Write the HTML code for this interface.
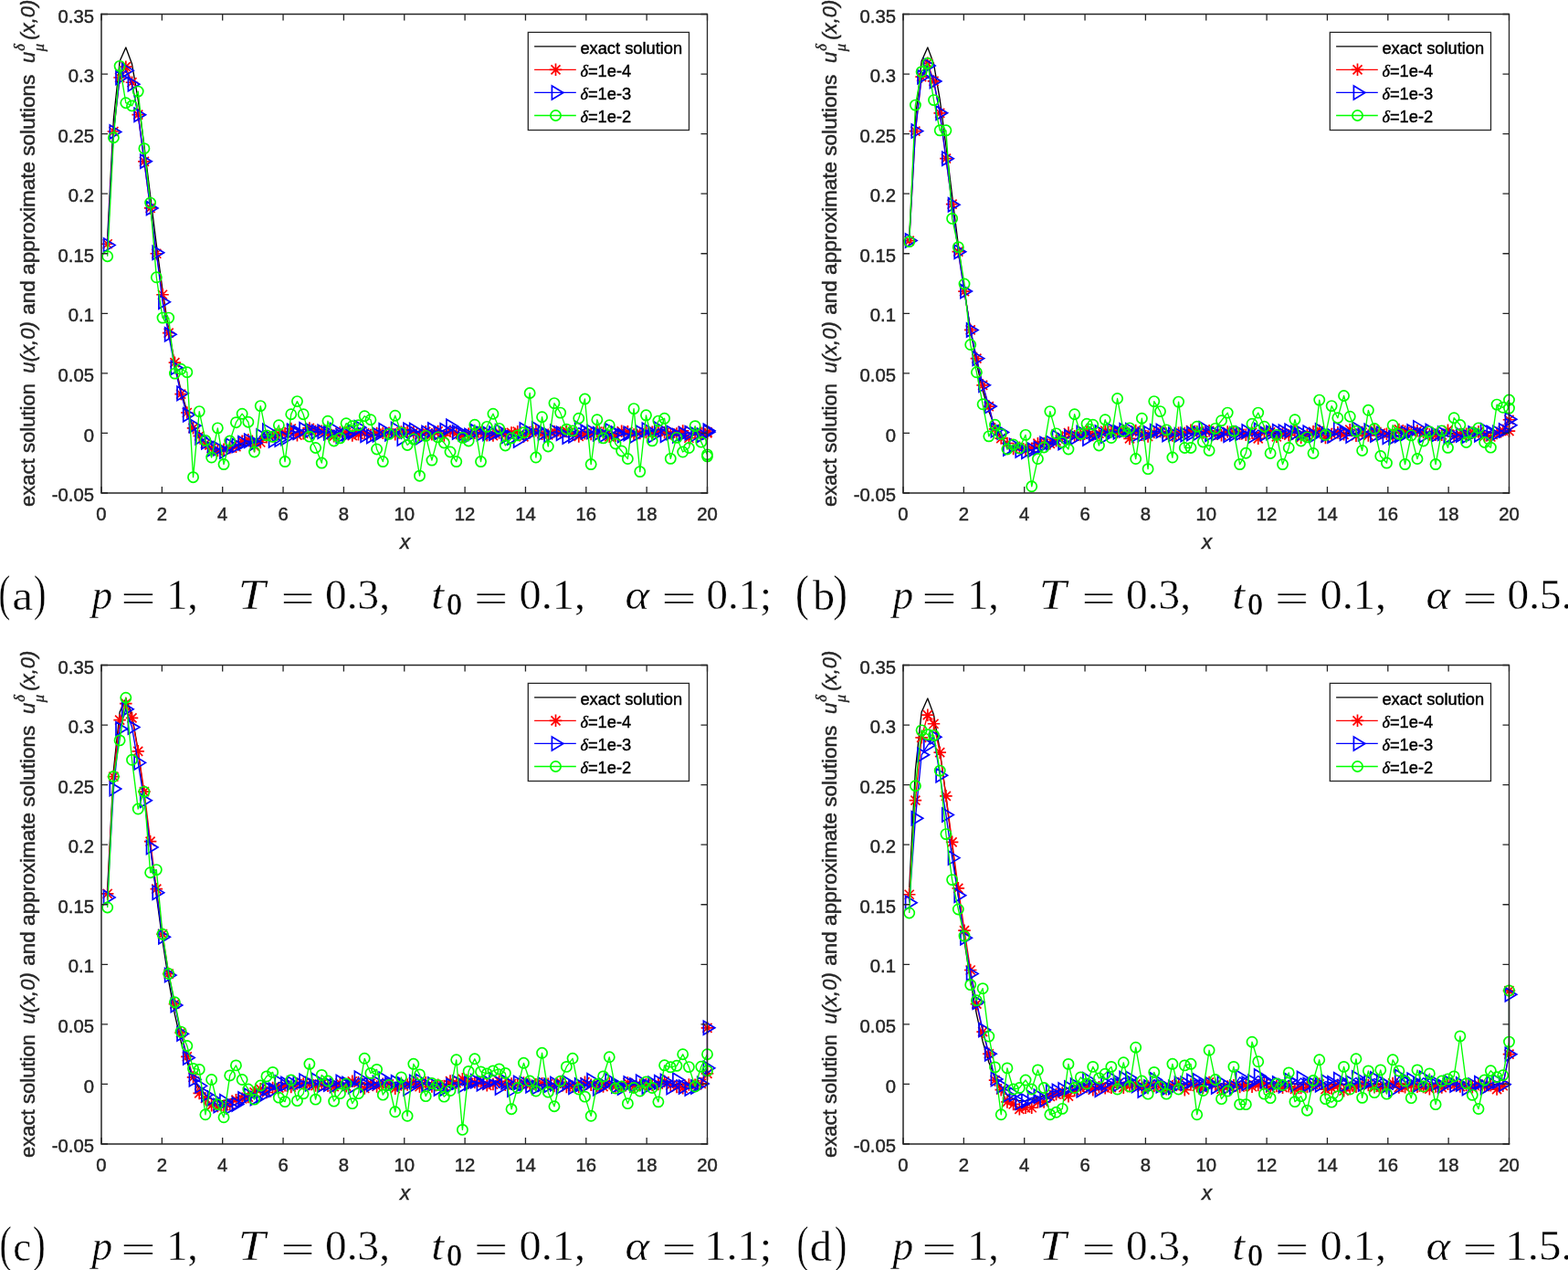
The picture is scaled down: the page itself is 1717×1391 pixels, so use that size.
<!DOCTYPE html>
<html><head><meta charset="utf-8"><style>
html,body{margin:0;padding:0;background:#fff;overflow:hidden}
svg{display:block}
</style></head><body>
<svg width="1717" height="1391" viewBox="0 0 1717 1391">
<rect width="1717" height="1391" fill="#fff"/>
<g transform="translate(0,0)">
<defs><clipPath id="cp0"><rect x="110.0" y="14.5" width="665.5" height="526.5"/></clipPath></defs>
<polyline clip-path="url(#cp0)" points="117.7,259.46 124.4,130.28 131.11,66.99 137.81,51.91 144.51,70.02 151.21,109.09 157.91,159.53 164.62,214.21 171.32,268.07 178.02,317.8 184.72,361.44 191.42,398.11 198.13,427.69 204.83,450.55 211.53,467.4 218.23,479.13 224.93,486.64 231.64,490.84 238.34,492.55 245.04,492.49 251.74,491.24 258.44,489.29 265.15,486.99 271.85,484.62 278.55,482.36 285.25,480.32 291.95,478.57 298.66,477.12 305.36,475.98 312.06,475.11 318.76,474.49 325.46,474.07 332.17,473.81 338.87,473.68 345.57,473.65 352.27,473.68 358.97,473.75 365.68,473.84 372.38,473.94 379.08,474.04 385.78,474.14 392.48,474.22 399.19,474.29 405.89,474.35 412.59,474.39 419.29,474.42 425.99,474.44 432.7,474.46 439.4,474.47 446.1,474.47 452.8,474.47 459.51,474.47 466.21,474.47 472.91,474.46 479.61,474.46 486.31,474.45 493.02,474.45 499.72,474.45 506.42,474.44 513.12,474.44 519.82,474.44 526.53,474.44 533.23,474.44 539.93,474.44 546.63,474.44 553.33,474.44 560.04,474.44 566.74,474.44 573.44,474.44 580.14,474.44 586.84,474.44 593.55,474.44 600.25,474.44 606.95,474.44 613.65,474.44 620.35,474.44 627.06,474.44 633.76,474.44 640.46,474.44 647.16,474.44 653.86,474.44 660.57,474.44 667.27,474.44 673.97,474.44 680.67,474.44 687.37,474.44 694.08,474.44 700.78,474.44 707.48,474.44 714.18,474.44 720.88,474.44 727.59,474.44 734.29,474.44 740.99,474.44 747.69,474.44 754.39,474.44 761.1,474.44 767.8,474.44 774.5,474.44" fill="none" stroke="#000" stroke-width="1.35" stroke-linejoin="round"/>
<polyline clip-path="url(#cp0)" points="117.7,267.26 124.4,144 131.11,85 137.81,73.2 144.51,90.24 151.21,125.65 157.91,176.78 164.62,227.92 171.32,277.75 178.02,322.73 184.72,364.69 191.42,397.2 198.13,431.53 204.83,452.01 211.53,468.86 218.23,477.5 224.93,486 231.64,490.79 238.34,493.58 245.04,492.28 251.74,490.47 258.44,489.27 265.15,483.37 271.85,481.79 278.55,488.4 285.25,484.52 291.95,478.8 298.66,478 305.36,475.41 312.06,474.57 318.76,469.49 325.46,476.71 332.17,474.73 338.87,468.9 345.57,472.16 352.27,472.15 358.97,474.99 365.68,477.76 372.38,473.57 379.08,473.8 385.78,477.05 392.48,475.84 399.19,474.47 405.89,476.58 412.59,474.62 419.29,474.2 425.99,474.36 432.7,475.65 439.4,473.06 446.1,472.37 452.8,473.71 459.51,476.4 466.21,472.74 472.91,475.64 479.61,472.38 486.31,476.98 493.02,472.29 499.72,474.49 506.42,477.39 513.12,475.18 519.82,474.31 526.53,473.79 533.23,476.76 539.93,477.05 546.63,473.97 553.33,475.54 560.04,473.88 566.74,472.64 573.44,478.33 580.14,473.84 586.84,471.55 593.55,475.14 600.25,476.35 606.95,472.66 613.65,473.84 620.35,472.32 627.06,475.25 633.76,477.93 640.46,474.7 647.16,475.49 653.86,472.61 660.57,473.98 667.27,478.29 673.97,477.26 680.67,472.35 687.37,472.83 694.08,475.95 700.78,474.44 707.48,473.39 714.18,473.33 720.88,472.37 727.59,473.83 734.29,474.66 740.99,475.05 747.69,471.95 754.39,479.75 761.1,474.76 767.8,474.36 774.5,473.13 774.5,474.44" fill="none" stroke="#f00" stroke-width="1.35" stroke-linejoin="round"/>
<path fill="none" stroke="#f00" stroke-width="1.7" d="M110.95 267.26H124.45M117.7 260.51V274.01M112.7 262.26L122.7 272.26M112.7 272.26L122.7 262.26M117.65 144H131.15M124.4 137.25V150.75M119.4 139L129.4 149M119.4 149L129.4 139M124.36 85H137.86M131.11 78.25V91.75M126.11 80L136.11 90M126.11 90L136.11 80M131.06 73.2H144.56M137.81 66.45V79.95M132.81 68.2L142.81 78.2M132.81 78.2L142.81 68.2M137.76 90.24H151.26M144.51 83.49V96.99M139.51 85.24L149.51 95.24M139.51 95.24L149.51 85.24M144.46 125.65H157.96M151.21 118.9V132.4M146.21 120.65L156.21 130.65M146.21 130.65L156.21 120.65M151.16 176.78H164.66M157.91 170.03V183.53M152.91 171.78L162.91 181.78M152.91 181.78L162.91 171.78M157.87 227.92H171.37M164.62 221.17V234.67M159.62 222.92L169.62 232.92M159.62 232.92L169.62 222.92M164.57 277.75H178.07M171.32 271V284.5M166.32 272.75L176.32 282.75M166.32 282.75L176.32 272.75M171.27 322.73H184.77M178.02 315.98V329.48M173.02 317.73L183.02 327.73M173.02 327.73L183.02 317.73M177.97 364.69H191.47M184.72 357.94V371.44M179.72 359.69L189.72 369.69M179.72 369.69L189.72 359.69M184.67 397.2H198.17M191.42 390.45V403.95M186.42 392.2L196.42 402.2M186.42 402.2L196.42 392.2M191.38 431.53H204.88M198.13 424.78V438.28M193.13 426.53L203.13 436.53M193.13 436.53L203.13 426.53M198.08 452.01H211.58M204.83 445.26V458.76M199.83 447.01L209.83 457.01M199.83 457.01L209.83 447.01M204.78 468.86H218.28M211.53 462.11V475.61M206.53 463.86L216.53 473.86M206.53 473.86L216.53 463.86M211.48 477.5H224.98M218.23 470.75V484.25M213.23 472.5L223.23 482.5M213.23 482.5L223.23 472.5M218.18 486H231.68M224.93 479.25V492.75M219.93 481L229.93 491M219.93 491L229.93 481M224.89 490.79H238.39M231.64 484.04V497.54M226.64 485.79L236.64 495.79M226.64 495.79L236.64 485.79M231.59 493.58H245.09M238.34 486.83V500.33M233.34 488.58L243.34 498.58M233.34 498.58L243.34 488.58M238.29 492.28H251.79M245.04 485.53V499.03M240.04 487.28L250.04 497.28M240.04 497.28L250.04 487.28M244.99 490.47H258.49M251.74 483.72V497.22M246.74 485.47L256.74 495.47M246.74 495.47L256.74 485.47M251.69 489.27H265.19M258.44 482.52V496.02M253.44 484.27L263.44 494.27M253.44 494.27L263.44 484.27M258.4 483.37H271.9M265.15 476.62V490.12M260.15 478.37L270.15 488.37M260.15 488.37L270.15 478.37M265.1 481.79H278.6M271.85 475.04V488.54M266.85 476.79L276.85 486.79M266.85 486.79L276.85 476.79M271.8 488.4H285.3M278.55 481.65V495.15M273.55 483.4L283.55 493.4M273.55 493.4L283.55 483.4M278.5 484.52H292M285.25 477.77V491.27M280.25 479.52L290.25 489.52M280.25 489.52L290.25 479.52M285.2 478.8H298.7M291.95 472.05V485.55M286.95 473.8L296.95 483.8M286.95 483.8L296.95 473.8M291.91 478H305.41M298.66 471.25V484.75M293.66 473L303.66 483M293.66 483L303.66 473M298.61 475.41H312.11M305.36 468.66V482.16M300.36 470.41L310.36 480.41M300.36 480.41L310.36 470.41M305.31 474.57H318.81M312.06 467.82V481.32M307.06 469.57L317.06 479.57M307.06 479.57L317.06 469.57M312.01 469.49H325.51M318.76 462.74V476.24M313.76 464.49L323.76 474.49M313.76 474.49L323.76 464.49M318.71 476.71H332.21M325.46 469.96V483.46M320.46 471.71L330.46 481.71M320.46 481.71L330.46 471.71M325.42 474.73H338.92M332.17 467.98V481.48M327.17 469.73L337.17 479.73M327.17 479.73L337.17 469.73M332.12 468.9H345.62M338.87 462.15V475.65M333.87 463.9L343.87 473.9M333.87 473.9L343.87 463.9M338.82 472.16H352.32M345.57 465.41V478.91M340.57 467.16L350.57 477.16M340.57 477.16L350.57 467.16M345.52 472.15H359.02M352.27 465.4V478.9M347.27 467.15L357.27 477.15M347.27 477.15L357.27 467.15M352.22 474.99H365.72M358.97 468.24V481.74M353.97 469.99L363.97 479.99M353.97 479.99L363.97 469.99M358.93 477.76H372.43M365.68 471.01V484.51M360.68 472.76L370.68 482.76M360.68 482.76L370.68 472.76M365.63 473.57H379.13M372.38 466.82V480.32M367.38 468.57L377.38 478.57M367.38 478.57L377.38 468.57M372.33 473.8H385.83M379.08 467.05V480.55M374.08 468.8L384.08 478.8M374.08 478.8L384.08 468.8M379.03 477.05H392.53M385.78 470.3V483.8M380.78 472.05L390.78 482.05M380.78 482.05L390.78 472.05M385.73 475.84H399.23M392.48 469.09V482.59M387.48 470.84L397.48 480.84M387.48 480.84L397.48 470.84M392.44 474.47H405.94M399.19 467.72V481.22M394.19 469.47L404.19 479.47M394.19 479.47L404.19 469.47M399.14 476.58H412.64M405.89 469.83V483.33M400.89 471.58L410.89 481.58M400.89 481.58L410.89 471.58M405.84 474.62H419.34M412.59 467.87V481.37M407.59 469.62L417.59 479.62M407.59 479.62L417.59 469.62M412.54 474.2H426.04M419.29 467.45V480.95M414.29 469.2L424.29 479.2M414.29 479.2L424.29 469.2M419.24 474.36H432.74M425.99 467.61V481.11M420.99 469.36L430.99 479.36M420.99 479.36L430.99 469.36M425.95 475.65H439.45M432.7 468.9V482.4M427.7 470.65L437.7 480.65M427.7 480.65L437.7 470.65M432.65 473.06H446.15M439.4 466.31V479.81M434.4 468.06L444.4 478.06M434.4 478.06L444.4 468.06M439.35 472.37H452.85M446.1 465.62V479.12M441.1 467.37L451.1 477.37M441.1 477.37L451.1 467.37M446.05 473.71H459.55M452.8 466.96V480.46M447.8 468.71L457.8 478.71M447.8 478.71L457.8 468.71M452.76 476.4H466.26M459.51 469.65V483.15M454.51 471.4L464.51 481.4M454.51 481.4L464.51 471.4M459.46 472.74H472.96M466.21 465.99V479.49M461.21 467.74L471.21 477.74M461.21 477.74L471.21 467.74M466.16 475.64H479.66M472.91 468.89V482.39M467.91 470.64L477.91 480.64M467.91 480.64L477.91 470.64M472.86 472.38H486.36M479.61 465.63V479.13M474.61 467.38L484.61 477.38M474.61 477.38L484.61 467.38M479.56 476.98H493.06M486.31 470.23V483.73M481.31 471.98L491.31 481.98M481.31 481.98L491.31 471.98M486.27 472.29H499.77M493.02 465.54V479.04M488.02 467.29L498.02 477.29M488.02 477.29L498.02 467.29M492.97 474.49H506.47M499.72 467.74V481.24M494.72 469.49L504.72 479.49M494.72 479.49L504.72 469.49M499.67 477.39H513.17M506.42 470.64V484.14M501.42 472.39L511.42 482.39M501.42 482.39L511.42 472.39M506.37 475.18H519.87M513.12 468.43V481.93M508.12 470.18L518.12 480.18M508.12 480.18L518.12 470.18M513.07 474.31H526.57M519.82 467.56V481.06M514.82 469.31L524.82 479.31M514.82 479.31L524.82 469.31M519.78 473.79H533.28M526.53 467.04V480.54M521.53 468.79L531.53 478.79M521.53 478.79L531.53 468.79M526.48 476.76H539.98M533.23 470.01V483.51M528.23 471.76L538.23 481.76M528.23 481.76L538.23 471.76M533.18 477.05H546.68M539.93 470.3V483.8M534.93 472.05L544.93 482.05M534.93 482.05L544.93 472.05M539.88 473.97H553.38M546.63 467.22V480.72M541.63 468.97L551.63 478.97M541.63 478.97L551.63 468.97M546.58 475.54H560.08M553.33 468.79V482.29M548.33 470.54L558.33 480.54M548.33 480.54L558.33 470.54M553.29 473.88H566.79M560.04 467.13V480.63M555.04 468.88L565.04 478.88M555.04 478.88L565.04 468.88M559.99 472.64H573.49M566.74 465.89V479.39M561.74 467.64L571.74 477.64M561.74 477.64L571.74 467.64M566.69 478.33H580.19M573.44 471.58V485.08M568.44 473.33L578.44 483.33M568.44 483.33L578.44 473.33M573.39 473.84H586.89M580.14 467.09V480.59M575.14 468.84L585.14 478.84M575.14 478.84L585.14 468.84M580.09 471.55H593.59M586.84 464.8V478.3M581.84 466.55L591.84 476.55M581.84 476.55L591.84 466.55M586.8 475.14H600.3M593.55 468.39V481.89M588.55 470.14L598.55 480.14M588.55 480.14L598.55 470.14M593.5 476.35H607M600.25 469.6V483.1M595.25 471.35L605.25 481.35M595.25 481.35L605.25 471.35M600.2 472.66H613.7M606.95 465.91V479.41M601.95 467.66L611.95 477.66M601.95 477.66L611.95 467.66M606.9 473.84H620.4M613.65 467.09V480.59M608.65 468.84L618.65 478.84M608.65 478.84L618.65 468.84M613.6 472.32H627.1M620.35 465.57V479.07M615.35 467.32L625.35 477.32M615.35 477.32L625.35 467.32M620.31 475.25H633.81M627.06 468.5V482M622.06 470.25L632.06 480.25M622.06 480.25L632.06 470.25M627.01 477.93H640.51M633.76 471.18V484.68M628.76 472.93L638.76 482.93M628.76 482.93L638.76 472.93M633.71 474.7H647.21M640.46 467.95V481.45M635.46 469.7L645.46 479.7M635.46 479.7L645.46 469.7M640.41 475.49H653.91M647.16 468.74V482.24M642.16 470.49L652.16 480.49M642.16 480.49L652.16 470.49M647.11 472.61H660.61M653.86 465.86V479.36M648.86 467.61L658.86 477.61M648.86 477.61L658.86 467.61M653.82 473.98H667.32M660.57 467.23V480.73M655.57 468.98L665.57 478.98M655.57 478.98L665.57 468.98M660.52 478.29H674.02M667.27 471.54V485.04M662.27 473.29L672.27 483.29M662.27 483.29L672.27 473.29M667.22 477.26H680.72M673.97 470.51V484.01M668.97 472.26L678.97 482.26M668.97 482.26L678.97 472.26M673.92 472.35H687.42M680.67 465.6V479.1M675.67 467.35L685.67 477.35M675.67 477.35L685.67 467.35M680.62 472.83H694.12M687.37 466.08V479.58M682.37 467.83L692.37 477.83M682.37 477.83L692.37 467.83M687.33 475.95H700.83M694.08 469.2V482.7M689.08 470.95L699.08 480.95M689.08 480.95L699.08 470.95M694.03 474.44H707.53M700.78 467.69V481.19M695.78 469.44L705.78 479.44M695.78 479.44L705.78 469.44M700.73 473.39H714.23M707.48 466.64V480.14M702.48 468.39L712.48 478.39M702.48 478.39L712.48 468.39M707.43 473.33H720.93M714.18 466.58V480.08M709.18 468.33L719.18 478.33M709.18 478.33L719.18 468.33M714.13 472.37H727.63M720.88 465.62V479.12M715.88 467.37L725.88 477.37M715.88 477.37L725.88 467.37M720.84 473.83H734.34M727.59 467.08V480.58M722.59 468.83L732.59 478.83M722.59 478.83L732.59 468.83M727.54 474.66H741.04M734.29 467.91V481.41M729.29 469.66L739.29 479.66M729.29 479.66L739.29 469.66M734.24 475.05H747.74M740.99 468.3V481.8M735.99 470.05L745.99 480.05M735.99 480.05L745.99 470.05M740.94 471.95H754.44M747.69 465.2V478.7M742.69 466.95L752.69 476.95M742.69 476.95L752.69 466.95M747.64 479.75H761.14M754.39 473V486.5M749.39 474.75L759.39 484.75M749.39 484.75L759.39 474.75M754.35 474.76H767.85M761.1 468.01V481.51M756.1 469.76L766.1 479.76M756.1 479.76L766.1 469.76M761.05 474.36H774.55M767.8 467.61V481.11M762.8 469.36L772.8 479.36M762.8 479.36L772.8 469.36M767.75 473.13H781.25M774.5 466.38V479.88M769.5 468.13L779.5 478.13M769.5 478.13L779.5 468.13M767.75 474.44H781.25M774.5 467.69V481.19M769.5 469.44L779.5 479.44M769.5 479.44L779.5 469.44"/>
<polyline clip-path="url(#cp0)" points="117.7,268.57 124.4,144.4 131.11,85 137.81,77.13 144.51,92.21 151.21,125.65 157.91,176.78 164.62,227.92 171.32,276.83 178.02,330.72 184.72,366.26 191.42,402.71 198.13,430.87 204.83,454.22 211.53,466.23 218.23,479.24 224.93,484.3 231.64,492.09 238.34,491.32 245.04,494.6 251.74,487.73 258.44,488 265.15,485.34 271.85,482.82 278.55,485.32 285.25,477.49 291.95,471.64 298.66,482.37 305.36,481.58 312.06,480.02 318.76,471.73 325.46,473.66 332.17,470.31 338.87,471.35 345.57,472.99 352.27,472.78 358.97,474.33 365.68,471.02 372.38,477.67 379.08,475.44 385.78,473.35 392.48,468.32 399.19,476.8 405.89,477.89 412.59,476.24 419.29,471.24 425.99,475.21 432.7,470.12 439.4,480.6 446.1,470.77 452.8,471.08 459.51,479.12 466.21,473.96 472.91,470.47 479.61,474.17 486.31,471.17 493.02,466.66 499.72,473.55 506.42,475.36 513.12,476.97 519.82,472.31 526.53,475.08 533.23,475.02 539.93,474.78 546.63,472.31 553.33,477.93 560.04,479.45 566.74,482.41 573.44,470.51 580.14,474.19 586.84,469.49 593.55,474.47 600.25,476.87 606.95,472.87 613.65,474.69 620.35,478.55 627.06,477.34 633.76,468.65 640.46,473.28 647.16,473.07 653.86,475.34 660.57,476.7 667.27,471.51 673.97,474.78 680.67,476.93 687.37,474.88 694.08,477.41 700.78,473.81 707.48,470.74 714.18,477.18 720.88,469.75 727.59,476.63 734.29,473.93 740.99,477.18 747.69,475.17 754.39,474.28 761.1,475.86 767.8,476.74 774.5,471.81 774.5,473.13" fill="none" stroke="#00f" stroke-width="1.35" stroke-linejoin="round"/>
<path fill="none" stroke="#00f" stroke-width="1.7" stroke-linejoin="miter" d="M126 268.57L113.6 261.07L113.6 276.07ZM132.7 144.4L120.3 136.9L120.3 151.9ZM139.41 85L127.01 77.5L127.01 92.5ZM146.11 77.13L133.71 69.63L133.71 84.63ZM152.81 92.21L140.41 84.71L140.41 99.71ZM159.51 125.65L147.11 118.15L147.11 133.15ZM166.21 176.78L153.81 169.28L153.81 184.28ZM172.92 227.92L160.52 220.42L160.52 235.42ZM179.62 276.83L167.22 269.33L167.22 284.33ZM186.32 330.72L173.92 323.22L173.92 338.22ZM193.02 366.26L180.62 358.76L180.62 373.76ZM199.72 402.71L187.32 395.21L187.32 410.21ZM206.43 430.87L194.03 423.37L194.03 438.37ZM213.13 454.22L200.73 446.72L200.73 461.72ZM219.83 466.23L207.43 458.73L207.43 473.73ZM226.53 479.24L214.13 471.74L214.13 486.74ZM233.23 484.3L220.83 476.8L220.83 491.8ZM239.94 492.09L227.54 484.59L227.54 499.59ZM246.64 491.32L234.24 483.82L234.24 498.82ZM253.34 494.6L240.94 487.1L240.94 502.1ZM260.04 487.73L247.64 480.23L247.64 495.23ZM266.74 488L254.34 480.5L254.34 495.5ZM273.45 485.34L261.05 477.84L261.05 492.84ZM280.15 482.82L267.75 475.32L267.75 490.32ZM286.85 485.32L274.45 477.82L274.45 492.82ZM293.55 477.49L281.15 469.99L281.15 484.99ZM300.25 471.64L287.85 464.14L287.85 479.14ZM306.96 482.37L294.56 474.87L294.56 489.87ZM313.66 481.58L301.26 474.08L301.26 489.08ZM320.36 480.02L307.96 472.52L307.96 487.52ZM327.06 471.73L314.66 464.23L314.66 479.23ZM333.76 473.66L321.36 466.16L321.36 481.16ZM340.47 470.31L328.07 462.81L328.07 477.81ZM347.17 471.35L334.77 463.85L334.77 478.85ZM353.87 472.99L341.47 465.49L341.47 480.49ZM360.57 472.78L348.17 465.28L348.17 480.28ZM367.27 474.33L354.87 466.83L354.87 481.83ZM373.98 471.02L361.58 463.52L361.58 478.52ZM380.68 477.67L368.28 470.17L368.28 485.17ZM387.38 475.44L374.98 467.94L374.98 482.94ZM394.08 473.35L381.68 465.85L381.68 480.85ZM400.78 468.32L388.38 460.82L388.38 475.82ZM407.49 476.8L395.09 469.3L395.09 484.3ZM414.19 477.89L401.79 470.39L401.79 485.39ZM420.89 476.24L408.49 468.74L408.49 483.74ZM427.59 471.24L415.19 463.74L415.19 478.74ZM434.29 475.21L421.89 467.71L421.89 482.71ZM441 470.12L428.6 462.62L428.6 477.62ZM447.7 480.6L435.3 473.1L435.3 488.1ZM454.4 470.77L442 463.27L442 478.27ZM461.1 471.08L448.7 463.58L448.7 478.58ZM467.81 479.12L455.41 471.62L455.41 486.62ZM474.51 473.96L462.11 466.46L462.11 481.46ZM481.21 470.47L468.81 462.97L468.81 477.97ZM487.91 474.17L475.51 466.67L475.51 481.67ZM494.61 471.17L482.21 463.67L482.21 478.67ZM501.32 466.66L488.92 459.16L488.92 474.16ZM508.02 473.55L495.62 466.05L495.62 481.05ZM514.72 475.36L502.32 467.86L502.32 482.86ZM521.42 476.97L509.02 469.47L509.02 484.47ZM528.12 472.31L515.72 464.81L515.72 479.81ZM534.83 475.08L522.43 467.58L522.43 482.58ZM541.53 475.02L529.13 467.52L529.13 482.52ZM548.23 474.78L535.83 467.28L535.83 482.28ZM554.93 472.31L542.53 464.81L542.53 479.81ZM561.63 477.93L549.23 470.43L549.23 485.43ZM568.34 479.45L555.94 471.95L555.94 486.95ZM575.04 482.41L562.64 474.91L562.64 489.91ZM581.74 470.51L569.34 463.01L569.34 478.01ZM588.44 474.19L576.04 466.69L576.04 481.69ZM595.14 469.49L582.74 461.99L582.74 476.99ZM601.85 474.47L589.45 466.97L589.45 481.97ZM608.55 476.87L596.15 469.37L596.15 484.37ZM615.25 472.87L602.85 465.37L602.85 480.37ZM621.95 474.69L609.55 467.19L609.55 482.19ZM628.65 478.55L616.25 471.05L616.25 486.05ZM635.36 477.34L622.96 469.84L622.96 484.84ZM642.06 468.65L629.66 461.15L629.66 476.15ZM648.76 473.28L636.36 465.78L636.36 480.78ZM655.46 473.07L643.06 465.57L643.06 480.57ZM662.16 475.34L649.76 467.84L649.76 482.84ZM668.87 476.7L656.47 469.2L656.47 484.2ZM675.57 471.51L663.17 464.01L663.17 479.01ZM682.27 474.78L669.87 467.28L669.87 482.28ZM688.97 476.93L676.57 469.43L676.57 484.43ZM695.67 474.88L683.27 467.38L683.27 482.38ZM702.38 477.41L689.98 469.91L689.98 484.91ZM709.08 473.81L696.68 466.31L696.68 481.31ZM715.78 470.74L703.38 463.24L703.38 478.24ZM722.48 477.18L710.08 469.68L710.08 484.68ZM729.18 469.75L716.78 462.25L716.78 477.25ZM735.89 476.63L723.49 469.13L723.49 484.13ZM742.59 473.93L730.19 466.43L730.19 481.43ZM749.29 477.18L736.89 469.68L736.89 484.68ZM755.99 475.17L743.59 467.67L743.59 482.67ZM762.69 474.28L750.29 466.78L750.29 481.78ZM769.4 475.86L757 468.36L757 483.36ZM776.1 476.74L763.7 469.24L763.7 484.24ZM782.8 471.81L770.4 464.31L770.4 479.31ZM782.8 473.13L770.4 465.63L770.4 480.63Z"/>
<polyline clip-path="url(#cp0)" points="117.7,280.75 124.4,150.73 131.11,72.35 137.81,112.69 144.51,115.9 151.21,100.08 157.91,162.64 164.62,222.1 171.32,303.77 178.02,348.12 184.72,348.12 191.42,409.08 198.13,404.27 204.83,407.67 211.53,522.68 218.23,450.61 224.93,482.35 231.64,501.06 238.34,468.83 245.04,508.57 251.74,482.95 258.44,462.73 265.15,453.22 271.85,462.23 278.55,494.96 285.25,444.61 291.95,476.84 298.66,478.34 305.36,465.73 312.06,505.57 318.76,453.72 325.46,439.6 332.17,453.72 338.87,478.14 345.57,490.45 352.27,507.07 358.97,461.22 365.68,482.95 372.38,479.84 379.08,463.73 385.78,466.73 392.48,465.73 399.19,455.72 405.89,459.72 412.59,491.95 419.29,505.57 425.99,475.34 432.7,455.22 439.4,473.84 446.1,487.45 452.8,480.84 459.51,521.18 466.21,477.34 472.91,504.07 479.61,478.84 486.31,484.95 493.02,494.96 499.72,505.57 506.42,479.34 513.12,482.95 519.82,465.23 526.53,505.57 533.23,467.33 539.93,453.22 546.63,469.33 553.33,487.95 560.04,479.84 566.74,476.84 573.44,473.84 580.14,430.5 586.84,501.06 593.55,456.72 600.25,488.95 606.95,441.61 613.65,452.12 620.35,470.13 627.06,471.84 633.76,458.22 640.46,437 647.16,508.57 653.86,459.72 660.57,479.84 667.27,465.73 673.97,485.95 680.67,493.96 687.37,502.56 694.08,447.61 700.78,516.58 707.48,454.82 714.18,482.85 720.88,461.12 727.59,458.32 734.29,502.36 740.99,479.34 747.69,495.06 754.39,490.55 761.1,466.63 767.8,484.15 774.5,497.86 774.5,499.86" fill="none" stroke="#0f0" stroke-width="1.35" stroke-linejoin="round"/>
<g fill="none" stroke="#0f0" stroke-width="1.7"><circle cx="117.7" cy="280.75" r="5.6"/><circle cx="124.4" cy="150.73" r="5.6"/><circle cx="131.11" cy="72.35" r="5.6"/><circle cx="137.81" cy="112.69" r="5.6"/><circle cx="144.51" cy="115.9" r="5.6"/><circle cx="151.21" cy="100.08" r="5.6"/><circle cx="157.91" cy="162.64" r="5.6"/><circle cx="164.62" cy="222.1" r="5.6"/><circle cx="171.32" cy="303.77" r="5.6"/><circle cx="178.02" cy="348.12" r="5.6"/><circle cx="184.72" cy="348.12" r="5.6"/><circle cx="191.42" cy="409.08" r="5.6"/><circle cx="198.13" cy="404.27" r="5.6"/><circle cx="204.83" cy="407.67" r="5.6"/><circle cx="211.53" cy="522.68" r="5.6"/><circle cx="218.23" cy="450.61" r="5.6"/><circle cx="224.93" cy="482.35" r="5.6"/><circle cx="231.64" cy="501.06" r="5.6"/><circle cx="238.34" cy="468.83" r="5.6"/><circle cx="245.04" cy="508.57" r="5.6"/><circle cx="251.74" cy="482.95" r="5.6"/><circle cx="258.44" cy="462.73" r="5.6"/><circle cx="265.15" cy="453.22" r="5.6"/><circle cx="271.85" cy="462.23" r="5.6"/><circle cx="278.55" cy="494.96" r="5.6"/><circle cx="285.25" cy="444.61" r="5.6"/><circle cx="291.95" cy="476.84" r="5.6"/><circle cx="298.66" cy="478.34" r="5.6"/><circle cx="305.36" cy="465.73" r="5.6"/><circle cx="312.06" cy="505.57" r="5.6"/><circle cx="318.76" cy="453.72" r="5.6"/><circle cx="325.46" cy="439.6" r="5.6"/><circle cx="332.17" cy="453.72" r="5.6"/><circle cx="338.87" cy="478.14" r="5.6"/><circle cx="345.57" cy="490.45" r="5.6"/><circle cx="352.27" cy="507.07" r="5.6"/><circle cx="358.97" cy="461.22" r="5.6"/><circle cx="365.68" cy="482.95" r="5.6"/><circle cx="372.38" cy="479.84" r="5.6"/><circle cx="379.08" cy="463.73" r="5.6"/><circle cx="385.78" cy="466.73" r="5.6"/><circle cx="392.48" cy="465.73" r="5.6"/><circle cx="399.19" cy="455.72" r="5.6"/><circle cx="405.89" cy="459.72" r="5.6"/><circle cx="412.59" cy="491.95" r="5.6"/><circle cx="419.29" cy="505.57" r="5.6"/><circle cx="425.99" cy="475.34" r="5.6"/><circle cx="432.7" cy="455.22" r="5.6"/><circle cx="439.4" cy="473.84" r="5.6"/><circle cx="446.1" cy="487.45" r="5.6"/><circle cx="452.8" cy="480.84" r="5.6"/><circle cx="459.51" cy="521.18" r="5.6"/><circle cx="466.21" cy="477.34" r="5.6"/><circle cx="472.91" cy="504.07" r="5.6"/><circle cx="479.61" cy="478.84" r="5.6"/><circle cx="486.31" cy="484.95" r="5.6"/><circle cx="493.02" cy="494.96" r="5.6"/><circle cx="499.72" cy="505.57" r="5.6"/><circle cx="506.42" cy="479.34" r="5.6"/><circle cx="513.12" cy="482.95" r="5.6"/><circle cx="519.82" cy="465.23" r="5.6"/><circle cx="526.53" cy="505.57" r="5.6"/><circle cx="533.23" cy="467.33" r="5.6"/><circle cx="539.93" cy="453.22" r="5.6"/><circle cx="546.63" cy="469.33" r="5.6"/><circle cx="553.33" cy="487.95" r="5.6"/><circle cx="560.04" cy="479.84" r="5.6"/><circle cx="566.74" cy="476.84" r="5.6"/><circle cx="573.44" cy="473.84" r="5.6"/><circle cx="580.14" cy="430.5" r="5.6"/><circle cx="586.84" cy="501.06" r="5.6"/><circle cx="593.55" cy="456.72" r="5.6"/><circle cx="600.25" cy="488.95" r="5.6"/><circle cx="606.95" cy="441.61" r="5.6"/><circle cx="613.65" cy="452.12" r="5.6"/><circle cx="620.35" cy="470.13" r="5.6"/><circle cx="627.06" cy="471.84" r="5.6"/><circle cx="633.76" cy="458.22" r="5.6"/><circle cx="640.46" cy="437" r="5.6"/><circle cx="647.16" cy="508.57" r="5.6"/><circle cx="653.86" cy="459.72" r="5.6"/><circle cx="660.57" cy="479.84" r="5.6"/><circle cx="667.27" cy="465.73" r="5.6"/><circle cx="673.97" cy="485.95" r="5.6"/><circle cx="680.67" cy="493.96" r="5.6"/><circle cx="687.37" cy="502.56" r="5.6"/><circle cx="694.08" cy="447.61" r="5.6"/><circle cx="700.78" cy="516.58" r="5.6"/><circle cx="707.48" cy="454.82" r="5.6"/><circle cx="714.18" cy="482.85" r="5.6"/><circle cx="720.88" cy="461.12" r="5.6"/><circle cx="727.59" cy="458.32" r="5.6"/><circle cx="734.29" cy="502.36" r="5.6"/><circle cx="740.99" cy="479.34" r="5.6"/><circle cx="747.69" cy="495.06" r="5.6"/><circle cx="754.39" cy="490.55" r="5.6"/><circle cx="761.1" cy="466.63" r="5.6"/><circle cx="767.8" cy="484.15" r="5.6"/><circle cx="774.5" cy="497.86" r="5.6"/><circle cx="774.5" cy="499.86" r="5.6"/></g>
<path d="M111.0 15.5V540.0H774.5" fill="none" stroke="#262626" stroke-width="1.5" stroke-linejoin="miter" stroke-linecap="square"/>
<path d="M111.0 15.5H774.5V540.0" fill="none" stroke="#262626" stroke-width="1.3" stroke-linejoin="miter" stroke-linecap="square"/>
<path d="M111 540.0V533M111 15.5V22.5M177.35 540.0V533M177.35 15.5V22.5M243.7 540.0V533M243.7 15.5V22.5M310.05 540.0V533M310.05 15.5V22.5M376.4 540.0V533M376.4 15.5V22.5M442.75 540.0V533M442.75 15.5V22.5M509.1 540.0V533M509.1 15.5V22.5M575.45 540.0V533M575.45 15.5V22.5M641.8 540.0V533M641.8 15.5V22.5M708.15 540.0V533M708.15 15.5V22.5M774.5 540.0V533M774.5 15.5V22.5M111.0 540H118M774.5 540H767.5M111.0 474.44H118M774.5 474.44H767.5M111.0 408.88H118M774.5 408.88H767.5M111.0 343.31H118M774.5 343.31H767.5M111.0 277.75H118M774.5 277.75H767.5M111.0 212.19H118M774.5 212.19H767.5M111.0 146.62H118M774.5 146.62H767.5M111.0 81.06H118M774.5 81.06H767.5M111.0 15.5H118M774.5 15.5H767.5" stroke="#262626" stroke-width="1.3" fill="none"/>
<g font-family="Liberation Sans, Arial, sans-serif" font-size="20.3" fill="#262626" stroke="#262626" stroke-width="0.45">
<text x="111" y="569.6" text-anchor="middle">0</text>
<text x="177.35" y="569.6" text-anchor="middle">2</text>
<text x="243.7" y="569.6" text-anchor="middle">4</text>
<text x="310.05" y="569.6" text-anchor="middle">6</text>
<text x="376.4" y="569.6" text-anchor="middle">8</text>
<text x="442.75" y="569.6" text-anchor="middle">10</text>
<text x="509.1" y="569.6" text-anchor="middle">12</text>
<text x="575.45" y="569.6" text-anchor="middle">14</text>
<text x="641.8" y="569.6" text-anchor="middle">16</text>
<text x="708.15" y="569.6" text-anchor="middle">18</text>
<text x="774.5" y="569.6" text-anchor="middle">20</text>
<text x="103.0" y="549.1" text-anchor="end">-0.05</text>
<text x="103.0" y="483.54" text-anchor="end">0</text>
<text x="103.0" y="417.98" text-anchor="end">0.05</text>
<text x="103.0" y="352.41" text-anchor="end">0.1</text>
<text x="103.0" y="286.85" text-anchor="end">0.15</text>
<text x="103.0" y="221.29" text-anchor="end">0.2</text>
<text x="103.0" y="155.72" text-anchor="end">0.25</text>
<text x="103.0" y="90.16" text-anchor="end">0.3</text>
<text x="103.0" y="24.6" text-anchor="end">0.35</text>
</g>
<text x="443.55" y="601.3" text-anchor="middle" font-family="Liberation Sans, Arial, sans-serif" font-style="italic" font-size="22.1" fill="#262626" stroke="#262626" stroke-width="0.45">x</text>
<g transform="translate(38.4,277.75) rotate(-90)" font-family="Liberation Sans, Arial, sans-serif" font-size="22.1" fill="#262626" stroke="#262626" stroke-width="0.45">
<text x="-277.3" y="0">exact solution</text>
<text x="-130.9" y="0" font-style="italic">u(x,0)</text>
<text x="-67.0" y="0" textLength="263.0" lengthAdjust="spacingAndGlyphs">and approximate solutions</text>
<text x="208.8" y="0" font-style="italic">u</text>
<text x="222.0" y="-11.6" font-size="16.5" font-style="italic" font-family="Liberation Serif, serif">δ</text>
<text x="221.5" y="9.5" font-size="16.5" font-style="italic" font-family="Liberation Serif, serif">μ</text>
<text x="234.0" y="0" font-style="italic">(x,0)</text>
</g>
<rect x="578.3" y="35.4" width="176.2" height="107.1" fill="#fff" stroke="#262626" stroke-width="1.3"/>
<g fill="none" stroke-width="1.35">
<path d="M585.1 50.9H630.8" stroke="#000"/>
<path d="M585.1 76.3H630.8" stroke="#f00"/>
<path d="M585.1 101.4H630.8" stroke="#00f"/>
<path d="M585.1 126.5H630.8" stroke="#0f0"/>
</g>
<path fill="none" stroke="#f00" stroke-width="1.7" d="M601.75 76.3H615.25M608.5 69.55V83.05M603.5 71.3L613.5 81.3M603.5 81.3L613.5 71.3"/>
<path fill="none" stroke="#00f" stroke-width="1.7" d="M616.8 101.4L604.4 93.9L604.4 108.9Z"/>
<circle cx="608.5" cy="126.5" r="5.6" fill="none" stroke="#0f0" stroke-width="1.7"/>
<g font-family="Liberation Sans, Arial, sans-serif" font-size="18.3" fill="#000" stroke="#000" stroke-width="0.45">
<text x="635.4" y="58.8">exact solution</text>
<text x="635.4" y="84.2"><tspan font-family="Liberation Serif, serif" font-style="italic">δ</tspan>=1e-4</text>
<text x="635.4" y="109.3"><tspan font-family="Liberation Serif, serif" font-style="italic">δ</tspan>=1e-3</text>
<text x="635.4" y="134.4"><tspan font-family="Liberation Serif, serif" font-style="italic">δ</tspan>=1e-2</text>
</g>
</g>
<g transform="translate(878.0,0)">
<defs><clipPath id="cp1"><rect x="110.0" y="14.5" width="665.5" height="526.5"/></clipPath></defs>
<polyline clip-path="url(#cp1)" points="117.7,259.46 124.4,130.28 131.11,66.99 137.81,51.91 144.51,70.02 151.21,109.09 157.91,159.53 164.62,214.21 171.32,268.07 178.02,317.8 184.72,361.44 191.42,398.11 198.13,427.69 204.83,450.55 211.53,467.4 218.23,479.13 224.93,486.64 231.64,490.84 238.34,492.55 245.04,492.49 251.74,491.24 258.44,489.29 265.15,486.99 271.85,484.62 278.55,482.36 285.25,480.32 291.95,478.57 298.66,477.12 305.36,475.98 312.06,475.11 318.76,474.49 325.46,474.07 332.17,473.81 338.87,473.68 345.57,473.65 352.27,473.68 358.97,473.75 365.68,473.84 372.38,473.94 379.08,474.04 385.78,474.14 392.48,474.22 399.19,474.29 405.89,474.35 412.59,474.39 419.29,474.42 425.99,474.44 432.7,474.46 439.4,474.47 446.1,474.47 452.8,474.47 459.51,474.47 466.21,474.47 472.91,474.46 479.61,474.46 486.31,474.45 493.02,474.45 499.72,474.45 506.42,474.44 513.12,474.44 519.82,474.44 526.53,474.44 533.23,474.44 539.93,474.44 546.63,474.44 553.33,474.44 560.04,474.44 566.74,474.44 573.44,474.44 580.14,474.44 586.84,474.44 593.55,474.44 600.25,474.44 606.95,474.44 613.65,474.44 620.35,474.44 627.06,474.44 633.76,474.44 640.46,474.44 647.16,474.44 653.86,474.44 660.57,474.44 667.27,474.44 673.97,474.44 680.67,474.44 687.37,474.44 694.08,474.44 700.78,474.44 707.48,474.44 714.18,474.44 720.88,474.44 727.59,474.44 734.29,474.44 740.99,474.44 747.69,474.44 754.39,474.44 761.1,474.44 767.8,474.44 774.5,474.44" fill="none" stroke="#000" stroke-width="1.35" stroke-linejoin="round"/>
<polyline clip-path="url(#cp1)" points="117.7,263.59 124.4,143.61 131.11,84.21 137.81,69.26 144.51,88.93 151.21,123.81 157.91,173.64 164.62,223.6 171.32,275.65 178.02,319.05 184.72,361.41 191.42,392.62 198.13,421.86 204.83,445.07 211.53,469.89 218.23,480.05 224.93,485.5 231.64,491.41 238.34,490.29 245.04,492.96 251.74,491.18 258.44,485.64 265.15,485.71 271.85,485.82 278.55,482.79 285.25,479.05 291.95,474 298.66,477.76 305.36,476.55 312.06,472.75 318.76,476.58 325.46,474.76 332.17,471.73 338.87,472.31 345.57,473.43 352.27,472.1 358.97,480.42 365.68,471.43 372.38,476.21 379.08,477.98 385.78,473.48 392.48,472.57 399.19,475.34 405.89,476.89 412.59,474.33 419.29,474.55 425.99,471.13 432.7,472.7 439.4,474.01 446.1,471.85 452.8,474.96 459.51,476.65 466.21,473.09 472.91,473.09 479.61,474.96 486.31,476.3 493.02,473.91 499.72,480.33 506.42,472.81 513.12,473.28 519.82,478.31 526.53,474.29 533.23,476.71 539.93,472.65 546.63,479.24 553.33,476.59 560.04,472.76 566.74,471.71 573.44,479.53 580.14,475.61 586.84,473.66 593.55,475.87 600.25,470.68 606.95,477.25 613.65,473.6 620.35,476.91 627.06,471.12 633.76,474.49 640.46,475.32 647.16,478.49 653.86,470.47 660.57,472.66 667.27,472.66 673.97,471.75 680.67,473.61 687.37,475.95 694.08,476.33 700.78,476.33 707.48,471.2 714.18,477.88 720.88,475.85 727.59,475.2 734.29,473.91 740.99,473.08 747.69,477.39 754.39,478.52 761.1,474.45 767.8,471.57 774.5,459.75 774.5,472.21" fill="none" stroke="#f00" stroke-width="1.35" stroke-linejoin="round"/>
<path fill="none" stroke="#f00" stroke-width="1.7" d="M110.95 263.59H124.45M117.7 256.84V270.34M112.7 258.59L122.7 268.59M112.7 268.59L122.7 258.59M117.65 143.61H131.15M124.4 136.86V150.36M119.4 138.61L129.4 148.61M119.4 148.61L129.4 138.61M124.36 84.21H137.86M131.11 77.46V90.96M126.11 79.21L136.11 89.21M126.11 89.21L136.11 79.21M131.06 69.26H144.56M137.81 62.51V76.01M132.81 64.26L142.81 74.26M132.81 74.26L142.81 64.26M137.76 88.93H151.26M144.51 82.18V95.68M139.51 83.93L149.51 93.93M139.51 93.93L149.51 83.93M144.46 123.81H157.96M151.21 117.06V130.56M146.21 118.81L156.21 128.81M146.21 128.81L156.21 118.81M151.16 173.64H164.66M157.91 166.89V180.39M152.91 168.64L162.91 178.64M152.91 178.64L162.91 168.64M157.87 223.6H171.37M164.62 216.85V230.35M159.62 218.6L169.62 228.6M159.62 228.6L169.62 218.6M164.57 275.65H178.07M171.32 268.9V282.4M166.32 270.65L176.32 280.65M166.32 280.65L176.32 270.65M171.27 319.05H184.77M178.02 312.3V325.8M173.02 314.05L183.02 324.05M173.02 324.05L183.02 314.05M177.97 361.41H191.47M184.72 354.66V368.16M179.72 356.41L189.72 366.41M179.72 366.41L189.72 356.41M184.67 392.62H198.17M191.42 385.87V399.37M186.42 387.62L196.42 397.62M186.42 397.62L196.42 387.62M191.38 421.86H204.88M198.13 415.11V428.61M193.13 416.86L203.13 426.86M193.13 426.86L203.13 416.86M198.08 445.07H211.58M204.83 438.32V451.82M199.83 440.07L209.83 450.07M199.83 450.07L209.83 440.07M204.78 469.89H218.28M211.53 463.14V476.64M206.53 464.89L216.53 474.89M206.53 474.89L216.53 464.89M211.48 480.05H224.98M218.23 473.3V486.8M213.23 475.05L223.23 485.05M213.23 485.05L223.23 475.05M218.18 485.5H231.68M224.93 478.75V492.25M219.93 480.5L229.93 490.5M219.93 490.5L229.93 480.5M224.89 491.41H238.39M231.64 484.66V498.16M226.64 486.41L236.64 496.41M226.64 496.41L236.64 486.41M231.59 490.29H245.09M238.34 483.54V497.04M233.34 485.29L243.34 495.29M233.34 495.29L243.34 485.29M238.29 492.96H251.79M245.04 486.21V499.71M240.04 487.96L250.04 497.96M240.04 497.96L250.04 487.96M244.99 491.18H258.49M251.74 484.43V497.93M246.74 486.18L256.74 496.18M246.74 496.18L256.74 486.18M251.69 485.64H265.19M258.44 478.89V492.39M253.44 480.64L263.44 490.64M253.44 490.64L263.44 480.64M258.4 485.71H271.9M265.15 478.96V492.46M260.15 480.71L270.15 490.71M260.15 490.71L270.15 480.71M265.1 485.82H278.6M271.85 479.07V492.57M266.85 480.82L276.85 490.82M266.85 490.82L276.85 480.82M271.8 482.79H285.3M278.55 476.04V489.54M273.55 477.79L283.55 487.79M273.55 487.79L283.55 477.79M278.5 479.05H292M285.25 472.3V485.8M280.25 474.05L290.25 484.05M280.25 484.05L290.25 474.05M285.2 474H298.7M291.95 467.25V480.75M286.95 469L296.95 479M286.95 479L296.95 469M291.91 477.76H305.41M298.66 471.01V484.51M293.66 472.76L303.66 482.76M293.66 482.76L303.66 472.76M298.61 476.55H312.11M305.36 469.8V483.3M300.36 471.55L310.36 481.55M300.36 481.55L310.36 471.55M305.31 472.75H318.81M312.06 466V479.5M307.06 467.75L317.06 477.75M307.06 477.75L317.06 467.75M312.01 476.58H325.51M318.76 469.83V483.33M313.76 471.58L323.76 481.58M313.76 481.58L323.76 471.58M318.71 474.76H332.21M325.46 468.01V481.51M320.46 469.76L330.46 479.76M320.46 479.76L330.46 469.76M325.42 471.73H338.92M332.17 464.98V478.48M327.17 466.73L337.17 476.73M327.17 476.73L337.17 466.73M332.12 472.31H345.62M338.87 465.56V479.06M333.87 467.31L343.87 477.31M333.87 477.31L343.87 467.31M338.82 473.43H352.32M345.57 466.68V480.18M340.57 468.43L350.57 478.43M340.57 478.43L350.57 468.43M345.52 472.1H359.02M352.27 465.35V478.85M347.27 467.1L357.27 477.1M347.27 477.1L357.27 467.1M352.22 480.42H365.72M358.97 473.67V487.17M353.97 475.42L363.97 485.42M353.97 485.42L363.97 475.42M358.93 471.43H372.43M365.68 464.68V478.18M360.68 466.43L370.68 476.43M360.68 476.43L370.68 466.43M365.63 476.21H379.13M372.38 469.46V482.96M367.38 471.21L377.38 481.21M367.38 481.21L377.38 471.21M372.33 477.98H385.83M379.08 471.23V484.73M374.08 472.98L384.08 482.98M374.08 482.98L384.08 472.98M379.03 473.48H392.53M385.78 466.73V480.23M380.78 468.48L390.78 478.48M380.78 478.48L390.78 468.48M385.73 472.57H399.23M392.48 465.82V479.32M387.48 467.57L397.48 477.57M387.48 477.57L397.48 467.57M392.44 475.34H405.94M399.19 468.59V482.09M394.19 470.34L404.19 480.34M394.19 480.34L404.19 470.34M399.14 476.89H412.64M405.89 470.14V483.64M400.89 471.89L410.89 481.89M400.89 481.89L410.89 471.89M405.84 474.33H419.34M412.59 467.58V481.08M407.59 469.33L417.59 479.33M407.59 479.33L417.59 469.33M412.54 474.55H426.04M419.29 467.8V481.3M414.29 469.55L424.29 479.55M414.29 479.55L424.29 469.55M419.24 471.13H432.74M425.99 464.38V477.88M420.99 466.13L430.99 476.13M420.99 476.13L430.99 466.13M425.95 472.7H439.45M432.7 465.95V479.45M427.7 467.7L437.7 477.7M427.7 477.7L437.7 467.7M432.65 474.01H446.15M439.4 467.26V480.76M434.4 469.01L444.4 479.01M434.4 479.01L444.4 469.01M439.35 471.85H452.85M446.1 465.1V478.6M441.1 466.85L451.1 476.85M441.1 476.85L451.1 466.85M446.05 474.96H459.55M452.8 468.21V481.71M447.8 469.96L457.8 479.96M447.8 479.96L457.8 469.96M452.76 476.65H466.26M459.51 469.9V483.4M454.51 471.65L464.51 481.65M454.51 481.65L464.51 471.65M459.46 473.09H472.96M466.21 466.34V479.84M461.21 468.09L471.21 478.09M461.21 478.09L471.21 468.09M466.16 473.09H479.66M472.91 466.34V479.84M467.91 468.09L477.91 478.09M467.91 478.09L477.91 468.09M472.86 474.96H486.36M479.61 468.21V481.71M474.61 469.96L484.61 479.96M474.61 479.96L484.61 469.96M479.56 476.3H493.06M486.31 469.55V483.05M481.31 471.3L491.31 481.3M481.31 481.3L491.31 471.3M486.27 473.91H499.77M493.02 467.16V480.66M488.02 468.91L498.02 478.91M488.02 478.91L498.02 468.91M492.97 480.33H506.47M499.72 473.58V487.08M494.72 475.33L504.72 485.33M494.72 485.33L504.72 475.33M499.67 472.81H513.17M506.42 466.06V479.56M501.42 467.81L511.42 477.81M501.42 477.81L511.42 467.81M506.37 473.28H519.87M513.12 466.53V480.03M508.12 468.28L518.12 478.28M508.12 478.28L518.12 468.28M513.07 478.31H526.57M519.82 471.56V485.06M514.82 473.31L524.82 483.31M514.82 483.31L524.82 473.31M519.78 474.29H533.28M526.53 467.54V481.04M521.53 469.29L531.53 479.29M521.53 479.29L531.53 469.29M526.48 476.71H539.98M533.23 469.96V483.46M528.23 471.71L538.23 481.71M528.23 481.71L538.23 471.71M533.18 472.65H546.68M539.93 465.9V479.4M534.93 467.65L544.93 477.65M534.93 477.65L544.93 467.65M539.88 479.24H553.38M546.63 472.49V485.99M541.63 474.24L551.63 484.24M541.63 484.24L551.63 474.24M546.58 476.59H560.08M553.33 469.84V483.34M548.33 471.59L558.33 481.59M548.33 481.59L558.33 471.59M553.29 472.76H566.79M560.04 466.01V479.51M555.04 467.76L565.04 477.76M555.04 477.76L565.04 467.76M559.99 471.71H573.49M566.74 464.96V478.46M561.74 466.71L571.74 476.71M561.74 476.71L571.74 466.71M566.69 479.53H580.19M573.44 472.78V486.28M568.44 474.53L578.44 484.53M568.44 484.53L578.44 474.53M573.39 475.61H586.89M580.14 468.86V482.36M575.14 470.61L585.14 480.61M575.14 480.61L585.14 470.61M580.09 473.66H593.59M586.84 466.91V480.41M581.84 468.66L591.84 478.66M581.84 478.66L591.84 468.66M586.8 475.87H600.3M593.55 469.12V482.62M588.55 470.87L598.55 480.87M588.55 480.87L598.55 470.87M593.5 470.68H607M600.25 463.93V477.43M595.25 465.68L605.25 475.68M595.25 475.68L605.25 465.68M600.2 477.25H613.7M606.95 470.5V484M601.95 472.25L611.95 482.25M601.95 482.25L611.95 472.25M606.9 473.6H620.4M613.65 466.85V480.35M608.65 468.6L618.65 478.6M608.65 478.6L618.65 468.6M613.6 476.91H627.1M620.35 470.16V483.66M615.35 471.91L625.35 481.91M615.35 481.91L625.35 471.91M620.31 471.12H633.81M627.06 464.37V477.87M622.06 466.12L632.06 476.12M622.06 476.12L632.06 466.12M627.01 474.49H640.51M633.76 467.74V481.24M628.76 469.49L638.76 479.49M628.76 479.49L638.76 469.49M633.71 475.32H647.21M640.46 468.57V482.07M635.46 470.32L645.46 480.32M635.46 480.32L645.46 470.32M640.41 478.49H653.91M647.16 471.74V485.24M642.16 473.49L652.16 483.49M642.16 483.49L652.16 473.49M647.11 470.47H660.61M653.86 463.72V477.22M648.86 465.47L658.86 475.47M648.86 475.47L658.86 465.47M653.82 472.66H667.32M660.57 465.91V479.41M655.57 467.66L665.57 477.66M655.57 477.66L665.57 467.66M660.52 472.66H674.02M667.27 465.91V479.41M662.27 467.66L672.27 477.66M662.27 477.66L672.27 467.66M667.22 471.75H680.72M673.97 465V478.5M668.97 466.75L678.97 476.75M668.97 476.75L678.97 466.75M673.92 473.61H687.42M680.67 466.86V480.36M675.67 468.61L685.67 478.61M675.67 478.61L685.67 468.61M680.62 475.95H694.12M687.37 469.2V482.7M682.37 470.95L692.37 480.95M682.37 480.95L692.37 470.95M687.33 476.33H700.83M694.08 469.58V483.08M689.08 471.33L699.08 481.33M689.08 481.33L699.08 471.33M694.03 476.33H707.53M700.78 469.58V483.08M695.78 471.33L705.78 481.33M695.78 481.33L705.78 471.33M700.73 471.2H714.23M707.48 464.45V477.95M702.48 466.2L712.48 476.2M702.48 476.2L712.48 466.2M707.43 477.88H720.93M714.18 471.13V484.63M709.18 472.88L719.18 482.88M709.18 482.88L719.18 472.88M714.13 475.85H727.63M720.88 469.1V482.6M715.88 470.85L725.88 480.85M715.88 480.85L725.88 470.85M720.84 475.2H734.34M727.59 468.45V481.95M722.59 470.2L732.59 480.2M722.59 480.2L732.59 470.2M727.54 473.91H741.04M734.29 467.16V480.66M729.29 468.91L739.29 478.91M729.29 478.91L739.29 468.91M734.24 473.08H747.74M740.99 466.33V479.83M735.99 468.08L745.99 478.08M735.99 478.08L745.99 468.08M740.94 477.39H754.44M747.69 470.64V484.14M742.69 472.39L752.69 482.39M742.69 482.39L752.69 472.39M747.64 478.52H761.14M754.39 471.77V485.27M749.39 473.52L759.39 483.52M749.39 483.52L759.39 473.52M754.35 474.45H767.85M761.1 467.7V481.2M756.1 469.45L766.1 479.45M756.1 479.45L766.1 469.45M761.05 471.57H774.55M767.8 464.82V478.32M762.8 466.57L772.8 476.57M762.8 476.57L772.8 466.57M767.75 459.75H781.25M774.5 453V466.5M769.5 454.75L779.5 464.75M769.5 464.75L779.5 454.75M767.75 472.21H781.25M774.5 465.46V478.96M769.5 467.21L779.5 477.21M769.5 477.21L779.5 467.21"/>
<polyline clip-path="url(#cp1)" points="117.7,263.59 124.4,143.61 131.11,84.21 137.81,71.88 144.51,88.93 151.21,123.81 157.91,173.64 164.62,224.25 171.32,275.65 178.02,319.05 184.72,361.41 191.42,392.62 198.13,421.86 204.83,445.07 211.53,471.12 218.23,473.51 224.93,491.41 231.64,488.1 238.34,493.38 245.04,494.68 251.74,492.88 258.44,490.96 265.15,486.05 271.85,484.9 278.55,478.67 285.25,484.88 291.95,478.58 298.66,479.35 305.36,474.05 312.06,480.39 318.76,475.35 325.46,473.55 332.17,477.51 338.87,471.23 345.57,473.2 352.27,471.17 358.97,471.36 365.68,476.28 372.38,475.93 379.08,474.55 385.78,472.27 392.48,472.1 399.19,476.06 405.89,475.86 412.59,476.38 419.29,475.88 425.99,475.04 432.7,474.79 439.4,469.34 446.1,475.73 452.8,475.19 459.51,473.33 466.21,476.84 472.91,475.38 479.61,474.42 486.31,472.52 493.02,477.73 499.72,471.03 506.42,475.32 513.12,474.02 519.82,472.33 526.53,472.79 533.23,471.8 539.93,474 546.63,474.48 553.33,473.65 560.04,476.92 566.74,471.41 573.44,476.37 580.14,477.58 586.84,469.31 593.55,474.78 600.25,477.37 606.95,469.82 613.65,475.26 620.35,471.79 627.06,476.5 633.76,475.06 640.46,478.64 647.16,479.19 653.86,476.87 660.57,474.63 667.27,472.45 673.97,468.39 680.67,477.01 687.37,471.92 694.08,475.94 700.78,474.82 707.48,478.13 714.18,478.12 720.88,476.38 727.59,477.41 734.29,474.45 740.99,476.19 747.69,471.32 754.39,474.06 761.1,474.03 767.8,471.6 774.5,459.23 774.5,465.78" fill="none" stroke="#00f" stroke-width="1.35" stroke-linejoin="round"/>
<path fill="none" stroke="#00f" stroke-width="1.7" stroke-linejoin="miter" d="M126 263.59L113.6 256.09L113.6 271.09ZM132.7 143.61L120.3 136.11L120.3 151.11ZM139.41 84.21L127.01 76.71L127.01 91.71ZM146.11 71.88L133.71 64.38L133.71 79.38ZM152.81 88.93L140.41 81.43L140.41 96.43ZM159.51 123.81L147.11 116.31L147.11 131.31ZM166.21 173.64L153.81 166.14L153.81 181.14ZM172.92 224.25L160.52 216.75L160.52 231.75ZM179.62 275.65L167.22 268.15L167.22 283.15ZM186.32 319.05L173.92 311.55L173.92 326.55ZM193.02 361.41L180.62 353.91L180.62 368.91ZM199.72 392.62L187.32 385.12L187.32 400.12ZM206.43 421.86L194.03 414.36L194.03 429.36ZM213.13 445.07L200.73 437.57L200.73 452.57ZM219.83 471.12L207.43 463.62L207.43 478.62ZM226.53 473.51L214.13 466.01L214.13 481.01ZM233.23 491.41L220.83 483.91L220.83 498.91ZM239.94 488.1L227.54 480.6L227.54 495.6ZM246.64 493.38L234.24 485.88L234.24 500.88ZM253.34 494.68L240.94 487.18L240.94 502.18ZM260.04 492.88L247.64 485.38L247.64 500.38ZM266.74 490.96L254.34 483.46L254.34 498.46ZM273.45 486.05L261.05 478.55L261.05 493.55ZM280.15 484.9L267.75 477.4L267.75 492.4ZM286.85 478.67L274.45 471.17L274.45 486.17ZM293.55 484.88L281.15 477.38L281.15 492.38ZM300.25 478.58L287.85 471.08L287.85 486.08ZM306.96 479.35L294.56 471.85L294.56 486.85ZM313.66 474.05L301.26 466.55L301.26 481.55ZM320.36 480.39L307.96 472.89L307.96 487.89ZM327.06 475.35L314.66 467.85L314.66 482.85ZM333.76 473.55L321.36 466.05L321.36 481.05ZM340.47 477.51L328.07 470.01L328.07 485.01ZM347.17 471.23L334.77 463.73L334.77 478.73ZM353.87 473.2L341.47 465.7L341.47 480.7ZM360.57 471.17L348.17 463.67L348.17 478.67ZM367.27 471.36L354.87 463.86L354.87 478.86ZM373.98 476.28L361.58 468.78L361.58 483.78ZM380.68 475.93L368.28 468.43L368.28 483.43ZM387.38 474.55L374.98 467.05L374.98 482.05ZM394.08 472.27L381.68 464.77L381.68 479.77ZM400.78 472.1L388.38 464.6L388.38 479.6ZM407.49 476.06L395.09 468.56L395.09 483.56ZM414.19 475.86L401.79 468.36L401.79 483.36ZM420.89 476.38L408.49 468.88L408.49 483.88ZM427.59 475.88L415.19 468.38L415.19 483.38ZM434.29 475.04L421.89 467.54L421.89 482.54ZM441 474.79L428.6 467.29L428.6 482.29ZM447.7 469.34L435.3 461.84L435.3 476.84ZM454.4 475.73L442 468.23L442 483.23ZM461.1 475.19L448.7 467.69L448.7 482.69ZM467.81 473.33L455.41 465.83L455.41 480.83ZM474.51 476.84L462.11 469.34L462.11 484.34ZM481.21 475.38L468.81 467.88L468.81 482.88ZM487.91 474.42L475.51 466.92L475.51 481.92ZM494.61 472.52L482.21 465.02L482.21 480.02ZM501.32 477.73L488.92 470.23L488.92 485.23ZM508.02 471.03L495.62 463.53L495.62 478.53ZM514.72 475.32L502.32 467.82L502.32 482.82ZM521.42 474.02L509.02 466.52L509.02 481.52ZM528.12 472.33L515.72 464.83L515.72 479.83ZM534.83 472.79L522.43 465.29L522.43 480.29ZM541.53 471.8L529.13 464.3L529.13 479.3ZM548.23 474L535.83 466.5L535.83 481.5ZM554.93 474.48L542.53 466.98L542.53 481.98ZM561.63 473.65L549.23 466.15L549.23 481.15ZM568.34 476.92L555.94 469.42L555.94 484.42ZM575.04 471.41L562.64 463.91L562.64 478.91ZM581.74 476.37L569.34 468.87L569.34 483.87ZM588.44 477.58L576.04 470.08L576.04 485.08ZM595.14 469.31L582.74 461.81L582.74 476.81ZM601.85 474.78L589.45 467.28L589.45 482.28ZM608.55 477.37L596.15 469.87L596.15 484.87ZM615.25 469.82L602.85 462.32L602.85 477.32ZM621.95 475.26L609.55 467.76L609.55 482.76ZM628.65 471.79L616.25 464.29L616.25 479.29ZM635.36 476.5L622.96 469L622.96 484ZM642.06 475.06L629.66 467.56L629.66 482.56ZM648.76 478.64L636.36 471.14L636.36 486.14ZM655.46 479.19L643.06 471.69L643.06 486.69ZM662.16 476.87L649.76 469.37L649.76 484.37ZM668.87 474.63L656.47 467.13L656.47 482.13ZM675.57 472.45L663.17 464.95L663.17 479.95ZM682.27 468.39L669.87 460.89L669.87 475.89ZM688.97 477.01L676.57 469.51L676.57 484.51ZM695.67 471.92L683.27 464.42L683.27 479.42ZM702.38 475.94L689.98 468.44L689.98 483.44ZM709.08 474.82L696.68 467.32L696.68 482.32ZM715.78 478.13L703.38 470.63L703.38 485.63ZM722.48 478.12L710.08 470.62L710.08 485.62ZM729.18 476.38L716.78 468.88L716.78 483.88ZM735.89 477.41L723.49 469.91L723.49 484.91ZM742.59 474.45L730.19 466.95L730.19 481.95ZM749.29 476.19L736.89 468.69L736.89 483.69ZM755.99 471.32L743.59 463.82L743.59 478.82ZM762.69 474.06L750.29 466.56L750.29 481.56ZM769.4 474.03L757 466.53L757 481.53ZM776.1 471.6L763.7 464.1L763.7 479.1ZM782.8 459.23L770.4 451.73L770.4 466.73ZM782.8 465.78L770.4 458.28L770.4 473.28Z"/>
<polyline clip-path="url(#cp1)" points="117.7,264.64 124.4,115.09 131.11,78.66 137.81,69.25 144.51,109.59 151.21,142.82 157.91,142.82 164.62,239.41 171.32,270.64 178.02,310.98 184.72,377.55 191.42,407.77 198.13,442.81 204.83,477.84 211.53,465.23 218.23,475.34 224.93,491.95 231.64,486.95 238.34,490.95 245.04,476.34 251.74,532.79 258.44,502.56 265.15,489.95 271.85,450.61 278.55,474.84 285.25,484.45 291.95,491.95 298.66,453.72 305.36,475.34 312.06,464.23 318.76,465.23 325.46,487.95 332.17,459.72 338.87,479.54 345.57,436.5 352.27,472.34 358.97,468.83 365.68,502.56 372.38,458.22 379.08,513.67 385.78,439.6 392.48,450.61 399.19,470.83 405.89,501.06 412.59,440.1 419.29,490.45 425.99,490.45 432.7,467.23 439.4,483.95 446.1,493.46 452.8,469.33 459.51,460.72 466.21,452.12 472.91,472.14 479.61,508.57 486.31,496.26 493.02,464.23 499.72,452.12 506.42,467.23 513.12,496.46 519.82,476.34 526.53,508.57 533.23,490.45 539.93,459.72 546.63,482.95 553.33,478.84 560.04,496.46 566.74,438.1 573.44,476.34 580.14,444.61 586.84,457.72 593.55,433.5 600.25,456.22 606.95,472.34 613.65,493.46 620.35,449.31 627.06,469.53 633.76,499.56 640.46,507.07 647.16,465.73 653.86,475.34 660.57,508.57 667.27,476.84 673.97,502.56 680.67,482.95 687.37,472.84 694.08,508.57 700.78,471.84 707.48,490.35 714.18,457.72 720.88,465.53 727.59,484.45 734.29,474.04 740.99,468.83 747.69,484.45 754.39,490.15 761.1,443.11 767.8,446.31 774.5,438 774.5,447.11" fill="none" stroke="#0f0" stroke-width="1.35" stroke-linejoin="round"/>
<g fill="none" stroke="#0f0" stroke-width="1.7"><circle cx="117.7" cy="264.64" r="5.6"/><circle cx="124.4" cy="115.09" r="5.6"/><circle cx="131.11" cy="78.66" r="5.6"/><circle cx="137.81" cy="69.25" r="5.6"/><circle cx="144.51" cy="109.59" r="5.6"/><circle cx="151.21" cy="142.82" r="5.6"/><circle cx="157.91" cy="142.82" r="5.6"/><circle cx="164.62" cy="239.41" r="5.6"/><circle cx="171.32" cy="270.64" r="5.6"/><circle cx="178.02" cy="310.98" r="5.6"/><circle cx="184.72" cy="377.55" r="5.6"/><circle cx="191.42" cy="407.77" r="5.6"/><circle cx="198.13" cy="442.81" r="5.6"/><circle cx="204.83" cy="477.84" r="5.6"/><circle cx="211.53" cy="465.23" r="5.6"/><circle cx="218.23" cy="475.34" r="5.6"/><circle cx="224.93" cy="491.95" r="5.6"/><circle cx="231.64" cy="486.95" r="5.6"/><circle cx="238.34" cy="490.95" r="5.6"/><circle cx="245.04" cy="476.34" r="5.6"/><circle cx="251.74" cy="532.79" r="5.6"/><circle cx="258.44" cy="502.56" r="5.6"/><circle cx="265.15" cy="489.95" r="5.6"/><circle cx="271.85" cy="450.61" r="5.6"/><circle cx="278.55" cy="474.84" r="5.6"/><circle cx="285.25" cy="484.45" r="5.6"/><circle cx="291.95" cy="491.95" r="5.6"/><circle cx="298.66" cy="453.72" r="5.6"/><circle cx="305.36" cy="475.34" r="5.6"/><circle cx="312.06" cy="464.23" r="5.6"/><circle cx="318.76" cy="465.23" r="5.6"/><circle cx="325.46" cy="487.95" r="5.6"/><circle cx="332.17" cy="459.72" r="5.6"/><circle cx="338.87" cy="479.54" r="5.6"/><circle cx="345.57" cy="436.5" r="5.6"/><circle cx="352.27" cy="472.34" r="5.6"/><circle cx="358.97" cy="468.83" r="5.6"/><circle cx="365.68" cy="502.56" r="5.6"/><circle cx="372.38" cy="458.22" r="5.6"/><circle cx="379.08" cy="513.67" r="5.6"/><circle cx="385.78" cy="439.6" r="5.6"/><circle cx="392.48" cy="450.61" r="5.6"/><circle cx="399.19" cy="470.83" r="5.6"/><circle cx="405.89" cy="501.06" r="5.6"/><circle cx="412.59" cy="440.1" r="5.6"/><circle cx="419.29" cy="490.45" r="5.6"/><circle cx="425.99" cy="490.45" r="5.6"/><circle cx="432.7" cy="467.23" r="5.6"/><circle cx="439.4" cy="483.95" r="5.6"/><circle cx="446.1" cy="493.46" r="5.6"/><circle cx="452.8" cy="469.33" r="5.6"/><circle cx="459.51" cy="460.72" r="5.6"/><circle cx="466.21" cy="452.12" r="5.6"/><circle cx="472.91" cy="472.14" r="5.6"/><circle cx="479.61" cy="508.57" r="5.6"/><circle cx="486.31" cy="496.26" r="5.6"/><circle cx="493.02" cy="464.23" r="5.6"/><circle cx="499.72" cy="452.12" r="5.6"/><circle cx="506.42" cy="467.23" r="5.6"/><circle cx="513.12" cy="496.46" r="5.6"/><circle cx="519.82" cy="476.34" r="5.6"/><circle cx="526.53" cy="508.57" r="5.6"/><circle cx="533.23" cy="490.45" r="5.6"/><circle cx="539.93" cy="459.72" r="5.6"/><circle cx="546.63" cy="482.95" r="5.6"/><circle cx="553.33" cy="478.84" r="5.6"/><circle cx="560.04" cy="496.46" r="5.6"/><circle cx="566.74" cy="438.1" r="5.6"/><circle cx="573.44" cy="476.34" r="5.6"/><circle cx="580.14" cy="444.61" r="5.6"/><circle cx="586.84" cy="457.72" r="5.6"/><circle cx="593.55" cy="433.5" r="5.6"/><circle cx="600.25" cy="456.22" r="5.6"/><circle cx="606.95" cy="472.34" r="5.6"/><circle cx="613.65" cy="493.46" r="5.6"/><circle cx="620.35" cy="449.31" r="5.6"/><circle cx="627.06" cy="469.53" r="5.6"/><circle cx="633.76" cy="499.56" r="5.6"/><circle cx="640.46" cy="507.07" r="5.6"/><circle cx="647.16" cy="465.73" r="5.6"/><circle cx="653.86" cy="475.34" r="5.6"/><circle cx="660.57" cy="508.57" r="5.6"/><circle cx="667.27" cy="476.84" r="5.6"/><circle cx="673.97" cy="502.56" r="5.6"/><circle cx="680.67" cy="482.95" r="5.6"/><circle cx="687.37" cy="472.84" r="5.6"/><circle cx="694.08" cy="508.57" r="5.6"/><circle cx="700.78" cy="471.84" r="5.6"/><circle cx="707.48" cy="490.35" r="5.6"/><circle cx="714.18" cy="457.72" r="5.6"/><circle cx="720.88" cy="465.53" r="5.6"/><circle cx="727.59" cy="484.45" r="5.6"/><circle cx="734.29" cy="474.04" r="5.6"/><circle cx="740.99" cy="468.83" r="5.6"/><circle cx="747.69" cy="484.45" r="5.6"/><circle cx="754.39" cy="490.15" r="5.6"/><circle cx="761.1" cy="443.11" r="5.6"/><circle cx="767.8" cy="446.31" r="5.6"/><circle cx="774.5" cy="438" r="5.6"/><circle cx="774.5" cy="447.11" r="5.6"/></g>
<path d="M111.0 15.5V540.0H774.5" fill="none" stroke="#262626" stroke-width="1.5" stroke-linejoin="miter" stroke-linecap="square"/>
<path d="M111.0 15.5H774.5V540.0" fill="none" stroke="#262626" stroke-width="1.3" stroke-linejoin="miter" stroke-linecap="square"/>
<path d="M111 540.0V533M111 15.5V22.5M177.35 540.0V533M177.35 15.5V22.5M243.7 540.0V533M243.7 15.5V22.5M310.05 540.0V533M310.05 15.5V22.5M376.4 540.0V533M376.4 15.5V22.5M442.75 540.0V533M442.75 15.5V22.5M509.1 540.0V533M509.1 15.5V22.5M575.45 540.0V533M575.45 15.5V22.5M641.8 540.0V533M641.8 15.5V22.5M708.15 540.0V533M708.15 15.5V22.5M774.5 540.0V533M774.5 15.5V22.5M111.0 540H118M774.5 540H767.5M111.0 474.44H118M774.5 474.44H767.5M111.0 408.88H118M774.5 408.88H767.5M111.0 343.31H118M774.5 343.31H767.5M111.0 277.75H118M774.5 277.75H767.5M111.0 212.19H118M774.5 212.19H767.5M111.0 146.62H118M774.5 146.62H767.5M111.0 81.06H118M774.5 81.06H767.5M111.0 15.5H118M774.5 15.5H767.5" stroke="#262626" stroke-width="1.3" fill="none"/>
<g font-family="Liberation Sans, Arial, sans-serif" font-size="20.3" fill="#262626" stroke="#262626" stroke-width="0.45">
<text x="111" y="569.6" text-anchor="middle">0</text>
<text x="177.35" y="569.6" text-anchor="middle">2</text>
<text x="243.7" y="569.6" text-anchor="middle">4</text>
<text x="310.05" y="569.6" text-anchor="middle">6</text>
<text x="376.4" y="569.6" text-anchor="middle">8</text>
<text x="442.75" y="569.6" text-anchor="middle">10</text>
<text x="509.1" y="569.6" text-anchor="middle">12</text>
<text x="575.45" y="569.6" text-anchor="middle">14</text>
<text x="641.8" y="569.6" text-anchor="middle">16</text>
<text x="708.15" y="569.6" text-anchor="middle">18</text>
<text x="774.5" y="569.6" text-anchor="middle">20</text>
<text x="103.0" y="549.1" text-anchor="end">-0.05</text>
<text x="103.0" y="483.54" text-anchor="end">0</text>
<text x="103.0" y="417.98" text-anchor="end">0.05</text>
<text x="103.0" y="352.41" text-anchor="end">0.1</text>
<text x="103.0" y="286.85" text-anchor="end">0.15</text>
<text x="103.0" y="221.29" text-anchor="end">0.2</text>
<text x="103.0" y="155.72" text-anchor="end">0.25</text>
<text x="103.0" y="90.16" text-anchor="end">0.3</text>
<text x="103.0" y="24.6" text-anchor="end">0.35</text>
</g>
<text x="443.55" y="601.3" text-anchor="middle" font-family="Liberation Sans, Arial, sans-serif" font-style="italic" font-size="22.1" fill="#262626" stroke="#262626" stroke-width="0.45">x</text>
<g transform="translate(38.4,277.75) rotate(-90)" font-family="Liberation Sans, Arial, sans-serif" font-size="22.1" fill="#262626" stroke="#262626" stroke-width="0.45">
<text x="-277.3" y="0">exact solution</text>
<text x="-130.9" y="0" font-style="italic">u(x,0)</text>
<text x="-67.0" y="0" textLength="263.0" lengthAdjust="spacingAndGlyphs">and approximate solutions</text>
<text x="208.8" y="0" font-style="italic">u</text>
<text x="222.0" y="-11.6" font-size="16.5" font-style="italic" font-family="Liberation Serif, serif">δ</text>
<text x="221.5" y="9.5" font-size="16.5" font-style="italic" font-family="Liberation Serif, serif">μ</text>
<text x="234.0" y="0" font-style="italic">(x,0)</text>
</g>
<rect x="578.3" y="35.4" width="176.2" height="107.1" fill="#fff" stroke="#262626" stroke-width="1.3"/>
<g fill="none" stroke-width="1.35">
<path d="M585.1 50.9H630.8" stroke="#000"/>
<path d="M585.1 76.3H630.8" stroke="#f00"/>
<path d="M585.1 101.4H630.8" stroke="#00f"/>
<path d="M585.1 126.5H630.8" stroke="#0f0"/>
</g>
<path fill="none" stroke="#f00" stroke-width="1.7" d="M601.75 76.3H615.25M608.5 69.55V83.05M603.5 71.3L613.5 81.3M603.5 81.3L613.5 71.3"/>
<path fill="none" stroke="#00f" stroke-width="1.7" d="M616.8 101.4L604.4 93.9L604.4 108.9Z"/>
<circle cx="608.5" cy="126.5" r="5.6" fill="none" stroke="#0f0" stroke-width="1.7"/>
<g font-family="Liberation Sans, Arial, sans-serif" font-size="18.3" fill="#000" stroke="#000" stroke-width="0.45">
<text x="635.4" y="58.8">exact solution</text>
<text x="635.4" y="84.2"><tspan font-family="Liberation Serif, serif" font-style="italic">δ</tspan>=1e-4</text>
<text x="635.4" y="109.3"><tspan font-family="Liberation Serif, serif" font-style="italic">δ</tspan>=1e-3</text>
<text x="635.4" y="134.4"><tspan font-family="Liberation Serif, serif" font-style="italic">δ</tspan>=1e-2</text>
</g>
</g>
<g transform="translate(0,713.0)">
<defs><clipPath id="cp2"><rect x="110.0" y="14.5" width="665.5" height="526.5"/></clipPath></defs>
<polyline clip-path="url(#cp2)" points="117.7,259.46 124.4,130.28 131.11,66.99 137.81,51.91 144.51,70.02 151.21,109.09 157.91,159.53 164.62,214.21 171.32,268.07 178.02,317.8 184.72,361.44 191.42,398.11 198.13,427.69 204.83,450.55 211.53,467.4 218.23,479.13 224.93,486.64 231.64,490.84 238.34,492.55 245.04,492.49 251.74,491.24 258.44,489.29 265.15,486.99 271.85,484.62 278.55,482.36 285.25,480.32 291.95,478.57 298.66,477.12 305.36,475.98 312.06,475.11 318.76,474.49 325.46,474.07 332.17,473.81 338.87,473.68 345.57,473.65 352.27,473.68 358.97,473.75 365.68,473.84 372.38,473.94 379.08,474.04 385.78,474.14 392.48,474.22 399.19,474.29 405.89,474.35 412.59,474.39 419.29,474.42 425.99,474.44 432.7,474.46 439.4,474.47 446.1,474.47 452.8,474.47 459.51,474.47 466.21,474.47 472.91,474.46 479.61,474.46 486.31,474.45 493.02,474.45 499.72,474.45 506.42,474.44 513.12,474.44 519.82,474.44 526.53,474.44 533.23,474.44 539.93,474.44 546.63,474.44 553.33,474.44 560.04,474.44 566.74,474.44 573.44,474.44 580.14,474.44 586.84,474.44 593.55,474.44 600.25,474.44 606.95,474.44 613.65,474.44 620.35,474.44 627.06,474.44 633.76,474.44 640.46,474.44 647.16,474.44 653.86,474.44 660.57,474.44 667.27,474.44 673.97,474.44 680.67,474.44 687.37,474.44 694.08,474.44 700.78,474.44 707.48,474.44 714.18,474.44 720.88,474.44 727.59,474.44 734.29,474.44 740.99,474.44 747.69,474.44 754.39,474.44 761.1,474.44 767.8,474.44 774.5,474.44" fill="none" stroke="#000" stroke-width="1.35" stroke-linejoin="round"/>
<polyline clip-path="url(#cp2)" points="117.7,265.95 124.4,137.58 131.11,75.69 137.81,57.59 144.51,73.33 151.21,109.78 157.91,154.1 164.62,208.65 171.32,260.7 178.02,310.14 184.72,353.54 191.42,386.71 198.13,418.05 204.83,444.28 211.53,466.92 218.23,484.39 224.93,489.89 231.64,497.69 238.34,498.57 245.04,498.15 251.74,497.12 258.44,491.69 265.15,490.28 271.85,488.56 278.55,483.38 285.25,479.84 291.95,483.48 298.66,478.4 305.36,478.68 312.06,475.69 318.76,477.55 325.46,474.02 332.17,473.9 338.87,474.4 345.57,476.12 352.27,474.61 358.97,476.32 365.68,477.04 372.38,473.41 379.08,476.66 385.78,471.37 392.48,472.53 399.19,479 405.89,473.7 412.59,476.99 419.29,474.34 425.99,474.34 432.7,479.16 439.4,475.03 446.1,475.08 452.8,472.21 459.51,477.27 466.21,472.73 472.91,477.06 479.61,475.24 486.31,476.44 493.02,471.03 499.72,473.11 506.42,468.7 513.12,472.93 519.82,472.44 526.53,472.45 533.23,475.87 539.93,474.6 546.63,471.25 553.33,475.37 560.04,473.99 566.74,474.49 573.44,473 580.14,475.3 586.84,474.8 593.55,473.86 600.25,474.19 606.95,476.48 613.65,472.32 620.35,477.5 627.06,477.27 633.76,477.46 640.46,472.16 647.16,475.29 653.86,476.73 660.57,477.12 667.27,473.44 673.97,476.93 680.67,477.44 687.37,472.99 694.08,477.26 700.78,475.2 707.48,474.45 714.18,475.49 720.88,474.57 727.59,471.28 734.29,475.66 740.99,477.41 747.69,478.77 754.39,474.92 761.1,475.27 767.8,473.81 774.5,462.9 774.5,412.81" fill="none" stroke="#f00" stroke-width="1.35" stroke-linejoin="round"/>
<path fill="none" stroke="#f00" stroke-width="1.7" d="M110.95 265.95H124.45M117.7 259.2V272.7M112.7 260.95L122.7 270.95M112.7 270.95L122.7 260.95M117.65 137.58H131.15M124.4 130.83V144.33M119.4 132.58L129.4 142.58M119.4 142.58L129.4 132.58M124.36 75.69H137.86M131.11 68.94V82.44M126.11 70.69L136.11 80.69M126.11 80.69L136.11 70.69M131.06 57.59H144.56M137.81 50.84V64.34M132.81 52.59L142.81 62.59M132.81 62.59L142.81 52.59M137.76 73.33H151.26M144.51 66.58V80.08M139.51 68.33L149.51 78.33M139.51 78.33L149.51 68.33M144.46 109.78H157.96M151.21 103.03V116.53M146.21 104.78L156.21 114.78M146.21 114.78L156.21 104.78M151.16 154.1H164.66M157.91 147.35V160.85M152.91 149.1L162.91 159.1M152.91 159.1L162.91 149.1M157.87 208.65H171.37M164.62 201.9V215.4M159.62 203.65L169.62 213.65M159.62 213.65L169.62 203.65M164.57 260.7H178.07M171.32 253.95V267.45M166.32 255.7L176.32 265.7M166.32 265.7L176.32 255.7M171.27 310.14H184.77M178.02 303.39V316.89M173.02 305.14L183.02 315.14M173.02 315.14L183.02 305.14M177.97 353.54H191.47M184.72 346.79V360.29M179.72 348.54L189.72 358.54M179.72 358.54L189.72 348.54M184.67 386.71H198.17M191.42 379.96V393.46M186.42 381.71L196.42 391.71M186.42 391.71L196.42 381.71M191.38 418.05H204.88M198.13 411.3V424.8M193.13 413.05L203.13 423.05M193.13 423.05L203.13 413.05M198.08 444.28H211.58M204.83 437.53V451.03M199.83 439.28L209.83 449.28M199.83 449.28L209.83 439.28M204.78 466.92H218.28M211.53 460.17V473.67M206.53 461.92L216.53 471.92M206.53 471.92L216.53 461.92M211.48 484.39H224.98M218.23 477.64V491.14M213.23 479.39L223.23 489.39M213.23 489.39L223.23 479.39M218.18 489.89H231.68M224.93 483.14V496.64M219.93 484.89L229.93 494.89M219.93 494.89L229.93 484.89M224.89 497.69H238.39M231.64 490.94V504.44M226.64 492.69L236.64 502.69M226.64 502.69L236.64 492.69M231.59 498.57H245.09M238.34 491.82V505.32M233.34 493.57L243.34 503.57M233.34 503.57L243.34 493.57M238.29 498.15H251.79M245.04 491.4V504.9M240.04 493.15L250.04 503.15M240.04 503.15L250.04 493.15M244.99 497.12H258.49M251.74 490.37V503.87M246.74 492.12L256.74 502.12M246.74 502.12L256.74 492.12M251.69 491.69H265.19M258.44 484.94V498.44M253.44 486.69L263.44 496.69M253.44 496.69L263.44 486.69M258.4 490.28H271.9M265.15 483.53V497.03M260.15 485.28L270.15 495.28M260.15 495.28L270.15 485.28M265.1 488.56H278.6M271.85 481.81V495.31M266.85 483.56L276.85 493.56M266.85 493.56L276.85 483.56M271.8 483.38H285.3M278.55 476.63V490.13M273.55 478.38L283.55 488.38M273.55 488.38L283.55 478.38M278.5 479.84H292M285.25 473.09V486.59M280.25 474.84L290.25 484.84M280.25 484.84L290.25 474.84M285.2 483.48H298.7M291.95 476.73V490.23M286.95 478.48L296.95 488.48M286.95 488.48L296.95 478.48M291.91 478.4H305.41M298.66 471.65V485.15M293.66 473.4L303.66 483.4M293.66 483.4L303.66 473.4M298.61 478.68H312.11M305.36 471.93V485.43M300.36 473.68L310.36 483.68M300.36 483.68L310.36 473.68M305.31 475.69H318.81M312.06 468.94V482.44M307.06 470.69L317.06 480.69M307.06 480.69L317.06 470.69M312.01 477.55H325.51M318.76 470.8V484.3M313.76 472.55L323.76 482.55M313.76 482.55L323.76 472.55M318.71 474.02H332.21M325.46 467.27V480.77M320.46 469.02L330.46 479.02M320.46 479.02L330.46 469.02M325.42 473.9H338.92M332.17 467.15V480.65M327.17 468.9L337.17 478.9M327.17 478.9L337.17 468.9M332.12 474.4H345.62M338.87 467.65V481.15M333.87 469.4L343.87 479.4M333.87 479.4L343.87 469.4M338.82 476.12H352.32M345.57 469.37V482.87M340.57 471.12L350.57 481.12M340.57 481.12L350.57 471.12M345.52 474.61H359.02M352.27 467.86V481.36M347.27 469.61L357.27 479.61M347.27 479.61L357.27 469.61M352.22 476.32H365.72M358.97 469.57V483.07M353.97 471.32L363.97 481.32M353.97 481.32L363.97 471.32M358.93 477.04H372.43M365.68 470.29V483.79M360.68 472.04L370.68 482.04M360.68 482.04L370.68 472.04M365.63 473.41H379.13M372.38 466.66V480.16M367.38 468.41L377.38 478.41M367.38 478.41L377.38 468.41M372.33 476.66H385.83M379.08 469.91V483.41M374.08 471.66L384.08 481.66M374.08 481.66L384.08 471.66M379.03 471.37H392.53M385.78 464.62V478.12M380.78 466.37L390.78 476.37M380.78 476.37L390.78 466.37M385.73 472.53H399.23M392.48 465.78V479.28M387.48 467.53L397.48 477.53M387.48 477.53L397.48 467.53M392.44 479H405.94M399.19 472.25V485.75M394.19 474L404.19 484M394.19 484L404.19 474M399.14 473.7H412.64M405.89 466.95V480.45M400.89 468.7L410.89 478.7M400.89 478.7L410.89 468.7M405.84 476.99H419.34M412.59 470.24V483.74M407.59 471.99L417.59 481.99M407.59 481.99L417.59 471.99M412.54 474.34H426.04M419.29 467.59V481.09M414.29 469.34L424.29 479.34M414.29 479.34L424.29 469.34M419.24 474.34H432.74M425.99 467.59V481.09M420.99 469.34L430.99 479.34M420.99 479.34L430.99 469.34M425.95 479.16H439.45M432.7 472.41V485.91M427.7 474.16L437.7 484.16M427.7 484.16L437.7 474.16M432.65 475.03H446.15M439.4 468.28V481.78M434.4 470.03L444.4 480.03M434.4 480.03L444.4 470.03M439.35 475.08H452.85M446.1 468.33V481.83M441.1 470.08L451.1 480.08M441.1 480.08L451.1 470.08M446.05 472.21H459.55M452.8 465.46V478.96M447.8 467.21L457.8 477.21M447.8 477.21L457.8 467.21M452.76 477.27H466.26M459.51 470.52V484.02M454.51 472.27L464.51 482.27M454.51 482.27L464.51 472.27M459.46 472.73H472.96M466.21 465.98V479.48M461.21 467.73L471.21 477.73M461.21 477.73L471.21 467.73M466.16 477.06H479.66M472.91 470.31V483.81M467.91 472.06L477.91 482.06M467.91 482.06L477.91 472.06M472.86 475.24H486.36M479.61 468.49V481.99M474.61 470.24L484.61 480.24M474.61 480.24L484.61 470.24M479.56 476.44H493.06M486.31 469.69V483.19M481.31 471.44L491.31 481.44M481.31 481.44L491.31 471.44M486.27 471.03H499.77M493.02 464.28V477.78M488.02 466.03L498.02 476.03M488.02 476.03L498.02 466.03M492.97 473.11H506.47M499.72 466.36V479.86M494.72 468.11L504.72 478.11M494.72 478.11L504.72 468.11M499.67 468.7H513.17M506.42 461.95V475.45M501.42 463.7L511.42 473.7M501.42 473.7L511.42 463.7M506.37 472.93H519.87M513.12 466.18V479.68M508.12 467.93L518.12 477.93M508.12 477.93L518.12 467.93M513.07 472.44H526.57M519.82 465.69V479.19M514.82 467.44L524.82 477.44M514.82 477.44L524.82 467.44M519.78 472.45H533.28M526.53 465.7V479.2M521.53 467.45L531.53 477.45M521.53 477.45L531.53 467.45M526.48 475.87H539.98M533.23 469.12V482.62M528.23 470.87L538.23 480.87M528.23 480.87L538.23 470.87M533.18 474.6H546.68M539.93 467.85V481.35M534.93 469.6L544.93 479.6M534.93 479.6L544.93 469.6M539.88 471.25H553.38M546.63 464.5V478M541.63 466.25L551.63 476.25M541.63 476.25L551.63 466.25M546.58 475.37H560.08M553.33 468.62V482.12M548.33 470.37L558.33 480.37M548.33 480.37L558.33 470.37M553.29 473.99H566.79M560.04 467.24V480.74M555.04 468.99L565.04 478.99M555.04 478.99L565.04 468.99M559.99 474.49H573.49M566.74 467.74V481.24M561.74 469.49L571.74 479.49M561.74 479.49L571.74 469.49M566.69 473H580.19M573.44 466.25V479.75M568.44 468L578.44 478M568.44 478L578.44 468M573.39 475.3H586.89M580.14 468.55V482.05M575.14 470.3L585.14 480.3M575.14 480.3L585.14 470.3M580.09 474.8H593.59M586.84 468.05V481.55M581.84 469.8L591.84 479.8M581.84 479.8L591.84 469.8M586.8 473.86H600.3M593.55 467.11V480.61M588.55 468.86L598.55 478.86M588.55 478.86L598.55 468.86M593.5 474.19H607M600.25 467.44V480.94M595.25 469.19L605.25 479.19M595.25 479.19L605.25 469.19M600.2 476.48H613.7M606.95 469.73V483.23M601.95 471.48L611.95 481.48M601.95 481.48L611.95 471.48M606.9 472.32H620.4M613.65 465.57V479.07M608.65 467.32L618.65 477.32M608.65 477.32L618.65 467.32M613.6 477.5H627.1M620.35 470.75V484.25M615.35 472.5L625.35 482.5M615.35 482.5L625.35 472.5M620.31 477.27H633.81M627.06 470.52V484.02M622.06 472.27L632.06 482.27M622.06 482.27L632.06 472.27M627.01 477.46H640.51M633.76 470.71V484.21M628.76 472.46L638.76 482.46M628.76 482.46L638.76 472.46M633.71 472.16H647.21M640.46 465.41V478.91M635.46 467.16L645.46 477.16M635.46 477.16L645.46 467.16M640.41 475.29H653.91M647.16 468.54V482.04M642.16 470.29L652.16 480.29M642.16 480.29L652.16 470.29M647.11 476.73H660.61M653.86 469.98V483.48M648.86 471.73L658.86 481.73M648.86 481.73L658.86 471.73M653.82 477.12H667.32M660.57 470.37V483.87M655.57 472.12L665.57 482.12M655.57 482.12L665.57 472.12M660.52 473.44H674.02M667.27 466.69V480.19M662.27 468.44L672.27 478.44M662.27 478.44L672.27 468.44M667.22 476.93H680.72M673.97 470.18V483.68M668.97 471.93L678.97 481.93M668.97 481.93L678.97 471.93M673.92 477.44H687.42M680.67 470.69V484.19M675.67 472.44L685.67 482.44M675.67 482.44L685.67 472.44M680.62 472.99H694.12M687.37 466.24V479.74M682.37 467.99L692.37 477.99M682.37 477.99L692.37 467.99M687.33 477.26H700.83M694.08 470.51V484.01M689.08 472.26L699.08 482.26M689.08 482.26L699.08 472.26M694.03 475.2H707.53M700.78 468.45V481.95M695.78 470.2L705.78 480.2M695.78 480.2L705.78 470.2M700.73 474.45H714.23M707.48 467.7V481.2M702.48 469.45L712.48 479.45M702.48 479.45L712.48 469.45M707.43 475.49H720.93M714.18 468.74V482.24M709.18 470.49L719.18 480.49M709.18 480.49L719.18 470.49M714.13 474.57H727.63M720.88 467.82V481.32M715.88 469.57L725.88 479.57M715.88 479.57L725.88 469.57M720.84 471.28H734.34M727.59 464.53V478.03M722.59 466.28L732.59 476.28M722.59 476.28L732.59 466.28M727.54 475.66H741.04M734.29 468.91V482.41M729.29 470.66L739.29 480.66M729.29 480.66L739.29 470.66M734.24 477.41H747.74M740.99 470.66V484.16M735.99 472.41L745.99 482.41M735.99 482.41L745.99 472.41M740.94 478.77H754.44M747.69 472.02V485.52M742.69 473.77L752.69 483.77M742.69 483.77L752.69 473.77M747.64 474.92H761.14M754.39 468.17V481.67M749.39 469.92L759.39 479.92M749.39 479.92L759.39 469.92M754.35 475.27H767.85M761.1 468.52V482.02M756.1 470.27L766.1 480.27M756.1 480.27L766.1 470.27M761.05 473.81H774.55M767.8 467.06V480.56M762.8 468.81L772.8 478.81M762.8 478.81L772.8 468.81M767.75 462.9H781.25M774.5 456.15V469.65M769.5 457.9L779.5 467.9M769.5 467.9L779.5 457.9M767.75 412.81H781.25M774.5 406.06V419.56M769.5 407.81L779.5 417.81M769.5 417.81L779.5 407.81"/>
<polyline clip-path="url(#cp2)" points="117.7,269.88 124.4,151.08 131.11,85.26 137.81,63.75 144.51,83.55 151.21,122.37 157.91,163.67 164.62,215.07 171.32,264.64 178.02,313.15 184.72,355.11 191.42,387.89 198.13,419.37 204.83,445.59 211.53,469.31 218.23,476.36 224.93,486.06 231.64,489.87 238.34,498.07 245.04,493.37 251.74,499.25 258.44,496.42 265.15,490.49 271.85,486.76 278.55,489.98 285.25,487.76 291.95,478.65 298.66,480.76 305.36,472.48 312.06,474.02 318.76,473.5 325.46,473.39 332.17,470.88 338.87,474.19 345.57,470.09 352.27,475.4 358.97,474.48 365.68,476.07 372.38,471.98 379.08,473.92 385.78,476.96 392.48,467.66 399.19,475.48 405.89,474.73 412.59,473.1 419.29,468.69 425.99,474.93 432.7,472.16 439.4,474.15 446.1,479.28 452.8,471.89 459.51,471.13 466.21,475.26 472.91,474.52 479.61,479.38 486.31,479.45 493.02,475.74 499.72,472.4 506.42,475.98 513.12,473.48 519.82,471.27 526.53,474.12 533.23,472.55 539.93,469.69 546.63,478.52 553.33,472 560.04,480.61 566.74,473.02 573.44,473.77 580.14,476.22 586.84,477.97 593.55,474.64 600.25,475.78 606.95,474.12 613.65,477.41 620.35,472.65 627.06,477.83 633.76,475.43 640.46,475.72 647.16,470.28 653.86,479.34 660.57,475.79 667.27,470.56 673.97,476.6 680.67,478.5 687.37,473.51 694.08,475.39 700.78,471.7 707.48,477.45 714.18,473.81 720.88,472.25 727.59,471.04 734.29,478.06 740.99,469.77 747.69,477.39 754.39,479.4 761.1,477.57 767.8,473.93 774.5,456.87 774.5,412.81" fill="none" stroke="#00f" stroke-width="1.35" stroke-linejoin="round"/>
<path fill="none" stroke="#00f" stroke-width="1.7" stroke-linejoin="miter" d="M126 269.88L113.6 262.38L113.6 277.38ZM132.7 151.08L120.3 143.58L120.3 158.58ZM139.41 85.26L127.01 77.76L127.01 92.76ZM146.11 63.75L133.71 56.25L133.71 71.25ZM152.81 83.55L140.41 76.05L140.41 91.05ZM159.51 122.37L147.11 114.87L147.11 129.87ZM166.21 163.67L153.81 156.17L153.81 171.17ZM172.92 215.07L160.52 207.57L160.52 222.57ZM179.62 264.64L167.22 257.14L167.22 272.14ZM186.32 313.15L173.92 305.65L173.92 320.65ZM193.02 355.11L180.62 347.61L180.62 362.61ZM199.72 387.89L187.32 380.39L187.32 395.39ZM206.43 419.37L194.03 411.87L194.03 426.87ZM213.13 445.59L200.73 438.09L200.73 453.09ZM219.83 469.31L207.43 461.81L207.43 476.81ZM226.53 476.36L214.13 468.86L214.13 483.86ZM233.23 486.06L220.83 478.56L220.83 493.56ZM239.94 489.87L227.54 482.37L227.54 497.37ZM246.64 498.07L234.24 490.57L234.24 505.57ZM253.34 493.37L240.94 485.87L240.94 500.87ZM260.04 499.25L247.64 491.75L247.64 506.75ZM266.74 496.42L254.34 488.92L254.34 503.92ZM273.45 490.49L261.05 482.99L261.05 497.99ZM280.15 486.76L267.75 479.26L267.75 494.26ZM286.85 489.98L274.45 482.48L274.45 497.48ZM293.55 487.76L281.15 480.26L281.15 495.26ZM300.25 478.65L287.85 471.15L287.85 486.15ZM306.96 480.76L294.56 473.26L294.56 488.26ZM313.66 472.48L301.26 464.98L301.26 479.98ZM320.36 474.02L307.96 466.52L307.96 481.52ZM327.06 473.5L314.66 466L314.66 481ZM333.76 473.39L321.36 465.89L321.36 480.89ZM340.47 470.88L328.07 463.38L328.07 478.38ZM347.17 474.19L334.77 466.69L334.77 481.69ZM353.87 470.09L341.47 462.59L341.47 477.59ZM360.57 475.4L348.17 467.9L348.17 482.9ZM367.27 474.48L354.87 466.98L354.87 481.98ZM373.98 476.07L361.58 468.57L361.58 483.57ZM380.68 471.98L368.28 464.48L368.28 479.48ZM387.38 473.92L374.98 466.42L374.98 481.42ZM394.08 476.96L381.68 469.46L381.68 484.46ZM400.78 467.66L388.38 460.16L388.38 475.16ZM407.49 475.48L395.09 467.98L395.09 482.98ZM414.19 474.73L401.79 467.23L401.79 482.23ZM420.89 473.1L408.49 465.6L408.49 480.6ZM427.59 468.69L415.19 461.19L415.19 476.19ZM434.29 474.93L421.89 467.43L421.89 482.43ZM441 472.16L428.6 464.66L428.6 479.66ZM447.7 474.15L435.3 466.65L435.3 481.65ZM454.4 479.28L442 471.78L442 486.78ZM461.1 471.89L448.7 464.39L448.7 479.39ZM467.81 471.13L455.41 463.63L455.41 478.63ZM474.51 475.26L462.11 467.76L462.11 482.76ZM481.21 474.52L468.81 467.02L468.81 482.02ZM487.91 479.38L475.51 471.88L475.51 486.88ZM494.61 479.45L482.21 471.95L482.21 486.95ZM501.32 475.74L488.92 468.24L488.92 483.24ZM508.02 472.4L495.62 464.9L495.62 479.9ZM514.72 475.98L502.32 468.48L502.32 483.48ZM521.42 473.48L509.02 465.98L509.02 480.98ZM528.12 471.27L515.72 463.77L515.72 478.77ZM534.83 474.12L522.43 466.62L522.43 481.62ZM541.53 472.55L529.13 465.05L529.13 480.05ZM548.23 469.69L535.83 462.19L535.83 477.19ZM554.93 478.52L542.53 471.02L542.53 486.02ZM561.63 472L549.23 464.5L549.23 479.5ZM568.34 480.61L555.94 473.11L555.94 488.11ZM575.04 473.02L562.64 465.52L562.64 480.52ZM581.74 473.77L569.34 466.27L569.34 481.27ZM588.44 476.22L576.04 468.72L576.04 483.72ZM595.14 477.97L582.74 470.47L582.74 485.47ZM601.85 474.64L589.45 467.14L589.45 482.14ZM608.55 475.78L596.15 468.28L596.15 483.28ZM615.25 474.12L602.85 466.62L602.85 481.62ZM621.95 477.41L609.55 469.91L609.55 484.91ZM628.65 472.65L616.25 465.15L616.25 480.15ZM635.36 477.83L622.96 470.33L622.96 485.33ZM642.06 475.43L629.66 467.93L629.66 482.93ZM648.76 475.72L636.36 468.22L636.36 483.22ZM655.46 470.28L643.06 462.78L643.06 477.78ZM662.16 479.34L649.76 471.84L649.76 486.84ZM668.87 475.79L656.47 468.29L656.47 483.29ZM675.57 470.56L663.17 463.06L663.17 478.06ZM682.27 476.6L669.87 469.1L669.87 484.1ZM688.97 478.5L676.57 471L676.57 486ZM695.67 473.51L683.27 466.01L683.27 481.01ZM702.38 475.39L689.98 467.89L689.98 482.89ZM709.08 471.7L696.68 464.2L696.68 479.2ZM715.78 477.45L703.38 469.95L703.38 484.95ZM722.48 473.81L710.08 466.31L710.08 481.31ZM729.18 472.25L716.78 464.75L716.78 479.75ZM735.89 471.04L723.49 463.54L723.49 478.54ZM742.59 478.06L730.19 470.56L730.19 485.56ZM749.29 469.77L736.89 462.27L736.89 477.27ZM755.99 477.39L743.59 469.89L743.59 484.89ZM762.69 479.4L750.29 471.9L750.29 486.9ZM769.4 477.57L757 470.07L757 485.07ZM776.1 473.93L763.7 466.43L763.7 481.43ZM782.8 456.87L770.4 449.37L770.4 464.37ZM782.8 412.81L770.4 405.31L770.4 420.31Z"/>
<polyline clip-path="url(#cp2)" points="117.7,280.95 124.4,137.52 131.11,97.88 137.81,51.23 144.51,119.3 151.21,173.05 157.91,154.13 164.62,242.72 171.32,239.61 178.02,310.18 184.72,353.52 191.42,384.75 198.13,417.08 204.83,432.5 211.53,457.42 218.23,458.42 224.93,507.77 231.64,469.53 238.34,496.66 245.04,510.77 251.74,464.93 258.44,453.92 265.15,469.53 271.85,480.04 278.55,491.15 285.25,476.04 291.95,465.93 298.66,461.43 305.36,489.15 312.06,493.66 318.76,470.03 325.46,492.65 332.17,484.85 338.87,452.32 345.57,491.15 352.27,464.43 358.97,471.03 365.68,493.16 372.38,484.65 379.08,474.04 385.78,495.66 392.48,484.65 399.19,446.31 405.89,462.43 412.59,458.42 419.29,486.15 425.99,475.54 432.7,504.77 439.4,466.93 446.1,509.27 452.8,452.32 459.51,463.93 466.21,487.65 472.91,473.54 479.61,475.54 486.31,488.15 493.02,481.54 499.72,447.81 506.42,524.39 513.12,460.42 519.82,446.81 526.53,460.92 533.23,462.93 539.93,459.92 546.63,457.92 553.33,462.43 560.04,501.76 566.74,478.54 573.44,451.32 580.14,471.03 586.84,482.04 593.55,440.3 600.25,483.15 606.95,498.76 613.65,471.23 620.35,455.42 627.06,446.31 633.76,480.04 640.46,488.15 647.16,509.27 653.86,474.54 660.57,465.93 667.27,444.81 673.97,479.04 680.67,477.04 687.37,495.66 694.08,478.54 700.78,482.04 707.48,471.94 714.18,478.54 720.88,493.86 727.59,453.82 734.29,455.82 740.99,454.32 747.69,441.71 754.39,455.62 761.1,477.04 767.8,455.32 774.5,441.71 774.5,459.92" fill="none" stroke="#0f0" stroke-width="1.35" stroke-linejoin="round"/>
<g fill="none" stroke="#0f0" stroke-width="1.7"><circle cx="117.7" cy="280.95" r="5.6"/><circle cx="124.4" cy="137.52" r="5.6"/><circle cx="131.11" cy="97.88" r="5.6"/><circle cx="137.81" cy="51.23" r="5.6"/><circle cx="144.51" cy="119.3" r="5.6"/><circle cx="151.21" cy="173.05" r="5.6"/><circle cx="157.91" cy="154.13" r="5.6"/><circle cx="164.62" cy="242.72" r="5.6"/><circle cx="171.32" cy="239.61" r="5.6"/><circle cx="178.02" cy="310.18" r="5.6"/><circle cx="184.72" cy="353.52" r="5.6"/><circle cx="191.42" cy="384.75" r="5.6"/><circle cx="198.13" cy="417.08" r="5.6"/><circle cx="204.83" cy="432.5" r="5.6"/><circle cx="211.53" cy="457.42" r="5.6"/><circle cx="218.23" cy="458.42" r="5.6"/><circle cx="224.93" cy="507.77" r="5.6"/><circle cx="231.64" cy="469.53" r="5.6"/><circle cx="238.34" cy="496.66" r="5.6"/><circle cx="245.04" cy="510.77" r="5.6"/><circle cx="251.74" cy="464.93" r="5.6"/><circle cx="258.44" cy="453.92" r="5.6"/><circle cx="265.15" cy="469.53" r="5.6"/><circle cx="271.85" cy="480.04" r="5.6"/><circle cx="278.55" cy="491.15" r="5.6"/><circle cx="285.25" cy="476.04" r="5.6"/><circle cx="291.95" cy="465.93" r="5.6"/><circle cx="298.66" cy="461.43" r="5.6"/><circle cx="305.36" cy="489.15" r="5.6"/><circle cx="312.06" cy="493.66" r="5.6"/><circle cx="318.76" cy="470.03" r="5.6"/><circle cx="325.46" cy="492.65" r="5.6"/><circle cx="332.17" cy="484.85" r="5.6"/><circle cx="338.87" cy="452.32" r="5.6"/><circle cx="345.57" cy="491.15" r="5.6"/><circle cx="352.27" cy="464.43" r="5.6"/><circle cx="358.97" cy="471.03" r="5.6"/><circle cx="365.68" cy="493.16" r="5.6"/><circle cx="372.38" cy="484.65" r="5.6"/><circle cx="379.08" cy="474.04" r="5.6"/><circle cx="385.78" cy="495.66" r="5.6"/><circle cx="392.48" cy="484.65" r="5.6"/><circle cx="399.19" cy="446.31" r="5.6"/><circle cx="405.89" cy="462.43" r="5.6"/><circle cx="412.59" cy="458.42" r="5.6"/><circle cx="419.29" cy="486.15" r="5.6"/><circle cx="425.99" cy="475.54" r="5.6"/><circle cx="432.7" cy="504.77" r="5.6"/><circle cx="439.4" cy="466.93" r="5.6"/><circle cx="446.1" cy="509.27" r="5.6"/><circle cx="452.8" cy="452.32" r="5.6"/><circle cx="459.51" cy="463.93" r="5.6"/><circle cx="466.21" cy="487.65" r="5.6"/><circle cx="472.91" cy="473.54" r="5.6"/><circle cx="479.61" cy="475.54" r="5.6"/><circle cx="486.31" cy="488.15" r="5.6"/><circle cx="493.02" cy="481.54" r="5.6"/><circle cx="499.72" cy="447.81" r="5.6"/><circle cx="506.42" cy="524.39" r="5.6"/><circle cx="513.12" cy="460.42" r="5.6"/><circle cx="519.82" cy="446.81" r="5.6"/><circle cx="526.53" cy="460.92" r="5.6"/><circle cx="533.23" cy="462.93" r="5.6"/><circle cx="539.93" cy="459.92" r="5.6"/><circle cx="546.63" cy="457.92" r="5.6"/><circle cx="553.33" cy="462.43" r="5.6"/><circle cx="560.04" cy="501.76" r="5.6"/><circle cx="566.74" cy="478.54" r="5.6"/><circle cx="573.44" cy="451.32" r="5.6"/><circle cx="580.14" cy="471.03" r="5.6"/><circle cx="586.84" cy="482.04" r="5.6"/><circle cx="593.55" cy="440.3" r="5.6"/><circle cx="600.25" cy="483.15" r="5.6"/><circle cx="606.95" cy="498.76" r="5.6"/><circle cx="613.65" cy="471.23" r="5.6"/><circle cx="620.35" cy="455.42" r="5.6"/><circle cx="627.06" cy="446.31" r="5.6"/><circle cx="633.76" cy="480.04" r="5.6"/><circle cx="640.46" cy="488.15" r="5.6"/><circle cx="647.16" cy="509.27" r="5.6"/><circle cx="653.86" cy="474.54" r="5.6"/><circle cx="660.57" cy="465.93" r="5.6"/><circle cx="667.27" cy="444.81" r="5.6"/><circle cx="673.97" cy="479.04" r="5.6"/><circle cx="680.67" cy="477.04" r="5.6"/><circle cx="687.37" cy="495.66" r="5.6"/><circle cx="694.08" cy="478.54" r="5.6"/><circle cx="700.78" cy="482.04" r="5.6"/><circle cx="707.48" cy="471.94" r="5.6"/><circle cx="714.18" cy="478.54" r="5.6"/><circle cx="720.88" cy="493.86" r="5.6"/><circle cx="727.59" cy="453.82" r="5.6"/><circle cx="734.29" cy="455.82" r="5.6"/><circle cx="740.99" cy="454.32" r="5.6"/><circle cx="747.69" cy="441.71" r="5.6"/><circle cx="754.39" cy="455.62" r="5.6"/><circle cx="761.1" cy="477.04" r="5.6"/><circle cx="767.8" cy="455.32" r="5.6"/><circle cx="774.5" cy="441.71" r="5.6"/><circle cx="774.5" cy="459.92" r="5.6"/></g>
<path d="M111.0 15.5V540.0H774.5" fill="none" stroke="#262626" stroke-width="1.5" stroke-linejoin="miter" stroke-linecap="square"/>
<path d="M111.0 15.5H774.5V540.0" fill="none" stroke="#262626" stroke-width="1.3" stroke-linejoin="miter" stroke-linecap="square"/>
<path d="M111 540.0V533M111 15.5V22.5M177.35 540.0V533M177.35 15.5V22.5M243.7 540.0V533M243.7 15.5V22.5M310.05 540.0V533M310.05 15.5V22.5M376.4 540.0V533M376.4 15.5V22.5M442.75 540.0V533M442.75 15.5V22.5M509.1 540.0V533M509.1 15.5V22.5M575.45 540.0V533M575.45 15.5V22.5M641.8 540.0V533M641.8 15.5V22.5M708.15 540.0V533M708.15 15.5V22.5M774.5 540.0V533M774.5 15.5V22.5M111.0 540H118M774.5 540H767.5M111.0 474.44H118M774.5 474.44H767.5M111.0 408.88H118M774.5 408.88H767.5M111.0 343.31H118M774.5 343.31H767.5M111.0 277.75H118M774.5 277.75H767.5M111.0 212.19H118M774.5 212.19H767.5M111.0 146.62H118M774.5 146.62H767.5M111.0 81.06H118M774.5 81.06H767.5M111.0 15.5H118M774.5 15.5H767.5" stroke="#262626" stroke-width="1.3" fill="none"/>
<g font-family="Liberation Sans, Arial, sans-serif" font-size="20.3" fill="#262626" stroke="#262626" stroke-width="0.45">
<text x="111" y="569.6" text-anchor="middle">0</text>
<text x="177.35" y="569.6" text-anchor="middle">2</text>
<text x="243.7" y="569.6" text-anchor="middle">4</text>
<text x="310.05" y="569.6" text-anchor="middle">6</text>
<text x="376.4" y="569.6" text-anchor="middle">8</text>
<text x="442.75" y="569.6" text-anchor="middle">10</text>
<text x="509.1" y="569.6" text-anchor="middle">12</text>
<text x="575.45" y="569.6" text-anchor="middle">14</text>
<text x="641.8" y="569.6" text-anchor="middle">16</text>
<text x="708.15" y="569.6" text-anchor="middle">18</text>
<text x="774.5" y="569.6" text-anchor="middle">20</text>
<text x="103.0" y="549.1" text-anchor="end">-0.05</text>
<text x="103.0" y="483.54" text-anchor="end">0</text>
<text x="103.0" y="417.98" text-anchor="end">0.05</text>
<text x="103.0" y="352.41" text-anchor="end">0.1</text>
<text x="103.0" y="286.85" text-anchor="end">0.15</text>
<text x="103.0" y="221.29" text-anchor="end">0.2</text>
<text x="103.0" y="155.72" text-anchor="end">0.25</text>
<text x="103.0" y="90.16" text-anchor="end">0.3</text>
<text x="103.0" y="24.6" text-anchor="end">0.35</text>
</g>
<text x="443.55" y="601.3" text-anchor="middle" font-family="Liberation Sans, Arial, sans-serif" font-style="italic" font-size="22.1" fill="#262626" stroke="#262626" stroke-width="0.45">x</text>
<g transform="translate(38.4,277.75) rotate(-90)" font-family="Liberation Sans, Arial, sans-serif" font-size="22.1" fill="#262626" stroke="#262626" stroke-width="0.45">
<text x="-277.3" y="0">exact solution</text>
<text x="-130.9" y="0" font-style="italic">u(x,0)</text>
<text x="-67.0" y="0" textLength="263.0" lengthAdjust="spacingAndGlyphs">and approximate solutions</text>
<text x="208.8" y="0" font-style="italic">u</text>
<text x="222.0" y="-11.6" font-size="16.5" font-style="italic" font-family="Liberation Serif, serif">δ</text>
<text x="221.5" y="9.5" font-size="16.5" font-style="italic" font-family="Liberation Serif, serif">μ</text>
<text x="234.0" y="0" font-style="italic">(x,0)</text>
</g>
<rect x="578.3" y="35.4" width="176.2" height="107.1" fill="#fff" stroke="#262626" stroke-width="1.3"/>
<g fill="none" stroke-width="1.35">
<path d="M585.1 50.9H630.8" stroke="#000"/>
<path d="M585.1 76.3H630.8" stroke="#f00"/>
<path d="M585.1 101.4H630.8" stroke="#00f"/>
<path d="M585.1 126.5H630.8" stroke="#0f0"/>
</g>
<path fill="none" stroke="#f00" stroke-width="1.7" d="M601.75 76.3H615.25M608.5 69.55V83.05M603.5 71.3L613.5 81.3M603.5 81.3L613.5 71.3"/>
<path fill="none" stroke="#00f" stroke-width="1.7" d="M616.8 101.4L604.4 93.9L604.4 108.9Z"/>
<circle cx="608.5" cy="126.5" r="5.6" fill="none" stroke="#0f0" stroke-width="1.7"/>
<g font-family="Liberation Sans, Arial, sans-serif" font-size="18.3" fill="#000" stroke="#000" stroke-width="0.45">
<text x="635.4" y="58.8">exact solution</text>
<text x="635.4" y="84.2"><tspan font-family="Liberation Serif, serif" font-style="italic">δ</tspan>=1e-4</text>
<text x="635.4" y="109.3"><tspan font-family="Liberation Serif, serif" font-style="italic">δ</tspan>=1e-3</text>
<text x="635.4" y="134.4"><tspan font-family="Liberation Serif, serif" font-style="italic">δ</tspan>=1e-2</text>
</g>
</g>
<g transform="translate(878.0,713.0)">
<defs><clipPath id="cp3"><rect x="110.0" y="14.5" width="665.5" height="526.5"/></clipPath></defs>
<polyline clip-path="url(#cp3)" points="117.7,259.46 124.4,130.28 131.11,66.99 137.81,51.91 144.51,70.02 151.21,109.09 157.91,159.53 164.62,214.21 171.32,268.07 178.02,317.8 184.72,361.44 191.42,398.11 198.13,427.69 204.83,450.55 211.53,467.4 218.23,479.13 224.93,486.64 231.64,490.84 238.34,492.55 245.04,492.49 251.74,491.24 258.44,489.29 265.15,486.99 271.85,484.62 278.55,482.36 285.25,480.32 291.95,478.57 298.66,477.12 305.36,475.98 312.06,475.11 318.76,474.49 325.46,474.07 332.17,473.81 338.87,473.68 345.57,473.65 352.27,473.68 358.97,473.75 365.68,473.84 372.38,473.94 379.08,474.04 385.78,474.14 392.48,474.22 399.19,474.29 405.89,474.35 412.59,474.39 419.29,474.42 425.99,474.44 432.7,474.46 439.4,474.47 446.1,474.47 452.8,474.47 459.51,474.47 466.21,474.47 472.91,474.46 479.61,474.46 486.31,474.45 493.02,474.45 499.72,474.45 506.42,474.44 513.12,474.44 519.82,474.44 526.53,474.44 533.23,474.44 539.93,474.44 546.63,474.44 553.33,474.44 560.04,474.44 566.74,474.44 573.44,474.44 580.14,474.44 586.84,474.44 593.55,474.44 600.25,474.44 606.95,474.44 613.65,474.44 620.35,474.44 627.06,474.44 633.76,474.44 640.46,474.44 647.16,474.44 653.86,474.44 660.57,474.44 667.27,474.44 673.97,474.44 680.67,474.44 687.37,474.44 694.08,474.44 700.78,474.44 707.48,474.44 714.18,474.44 720.88,474.44 727.59,474.44 734.29,474.44 740.99,474.44 747.69,474.44 754.39,474.44 761.1,474.44 767.8,474.44 774.5,474.44" fill="none" stroke="#000" stroke-width="1.35" stroke-linejoin="round"/>
<polyline clip-path="url(#cp3)" points="117.7,266.74 124.4,163.67 131.11,94.83 137.81,70.18 144.51,79.75 151.21,111.22 157.91,158.82 164.62,209.3 171.32,259.79 178.02,306.2 184.72,349.48 191.42,386.71 198.13,417.14 204.83,441.26 211.53,470.1 218.23,480.67 224.93,493.9 231.64,496.51 238.34,501.84 245.04,500.32 251.74,500.23 258.44,494.25 265.15,494.11 271.85,487.83 278.55,485.57 285.25,484.09 291.95,487.63 298.66,481.34 305.36,478.9 312.06,477.55 318.76,480.73 325.46,477.82 332.17,478.75 338.87,478.22 345.57,473.77 352.27,478.21 358.97,476.45 365.68,474.37 372.38,477.94 379.08,476.93 385.78,476.5 392.48,476.69 399.19,479.8 405.89,476.79 412.59,473.8 419.29,480.7 425.99,475.04 432.7,476.8 439.4,478.61 446.1,472.38 452.8,475.3 459.51,479.93 466.21,476.92 472.91,475.73 479.61,477.53 486.31,475.47 493.02,477.23 499.72,475.49 506.42,473.67 513.12,478.66 519.82,476.58 526.53,478.15 533.23,476.76 539.93,479.86 546.63,478.43 553.33,477.52 560.04,474.94 566.74,474.36 573.44,480.18 580.14,478.93 586.84,475.53 593.55,481.76 600.25,478.15 606.95,477.29 613.65,474.09 620.35,475.43 627.06,477.83 633.76,477.93 640.46,477.65 647.16,473.46 653.86,478.07 660.57,477.78 667.27,476.23 673.97,477.35 680.67,477.53 687.37,479.69 694.08,477.09 700.78,478.11 707.48,474.31 714.18,475.52 720.88,477.12 727.59,475.48 734.29,477.86 740.99,474.58 747.69,477.07 754.39,475.68 761.1,480.11 767.8,476.24 774.5,441.66 774.5,372.16" fill="none" stroke="#f00" stroke-width="1.35" stroke-linejoin="round"/>
<path fill="none" stroke="#f00" stroke-width="1.7" d="M110.95 266.74H124.45M117.7 259.99V273.49M112.7 261.74L122.7 271.74M112.7 271.74L122.7 261.74M117.65 163.67H131.15M124.4 156.92V170.42M119.4 158.67L129.4 168.67M119.4 168.67L129.4 158.67M124.36 94.83H137.86M131.11 88.08V101.58M126.11 89.83L136.11 99.83M126.11 99.83L136.11 89.83M131.06 70.18H144.56M137.81 63.43V76.93M132.81 65.18L142.81 75.18M132.81 75.18L142.81 65.18M137.76 79.75H151.26M144.51 73V86.5M139.51 74.75L149.51 84.75M139.51 84.75L149.51 74.75M144.46 111.22H157.96M151.21 104.47V117.97M146.21 106.22L156.21 116.22M146.21 116.22L156.21 106.22M151.16 158.82H164.66M157.91 152.07V165.57M152.91 153.82L162.91 163.82M152.91 163.82L162.91 153.82M157.87 209.3H171.37M164.62 202.55V216.05M159.62 204.3L169.62 214.3M159.62 214.3L169.62 204.3M164.57 259.79H178.07M171.32 253.04V266.54M166.32 254.79L176.32 264.79M166.32 264.79L176.32 254.79M171.27 306.2H184.77M178.02 299.45V312.95M173.02 301.2L183.02 311.2M173.02 311.2L183.02 301.2M177.97 349.48H191.47M184.72 342.73V356.23M179.72 344.48L189.72 354.48M179.72 354.48L189.72 344.48M184.67 386.71H198.17M191.42 379.96V393.46M186.42 381.71L196.42 391.71M186.42 391.71L196.42 381.71M191.38 417.14H204.88M198.13 410.39V423.89M193.13 412.14L203.13 422.14M193.13 422.14L203.13 412.14M198.08 441.26H211.58M204.83 434.51V448.01M199.83 436.26L209.83 446.26M199.83 446.26L209.83 436.26M204.78 470.1H218.28M211.53 463.35V476.85M206.53 465.1L216.53 475.1M206.53 475.1L216.53 465.1M211.48 480.67H224.98M218.23 473.92V487.42M213.23 475.67L223.23 485.67M213.23 485.67L223.23 475.67M218.18 493.9H231.68M224.93 487.15V500.65M219.93 488.9L229.93 498.9M219.93 498.9L229.93 488.9M224.89 496.51H238.39M231.64 489.76V503.26M226.64 491.51L236.64 501.51M226.64 501.51L236.64 491.51M231.59 501.84H245.09M238.34 495.09V508.59M233.34 496.84L243.34 506.84M233.34 506.84L243.34 496.84M238.29 500.32H251.79M245.04 493.57V507.07M240.04 495.32L250.04 505.32M240.04 505.32L250.04 495.32M244.99 500.23H258.49M251.74 493.48V506.98M246.74 495.23L256.74 505.23M246.74 505.23L256.74 495.23M251.69 494.25H265.19M258.44 487.5V501M253.44 489.25L263.44 499.25M253.44 499.25L263.44 489.25M258.4 494.11H271.9M265.15 487.36V500.86M260.15 489.11L270.15 499.11M260.15 499.11L270.15 489.11M265.1 487.83H278.6M271.85 481.08V494.58M266.85 482.83L276.85 492.83M266.85 492.83L276.85 482.83M271.8 485.57H285.3M278.55 478.82V492.32M273.55 480.57L283.55 490.57M273.55 490.57L283.55 480.57M278.5 484.09H292M285.25 477.34V490.84M280.25 479.09L290.25 489.09M280.25 489.09L290.25 479.09M285.2 487.63H298.7M291.95 480.88V494.38M286.95 482.63L296.95 492.63M286.95 492.63L296.95 482.63M291.91 481.34H305.41M298.66 474.59V488.09M293.66 476.34L303.66 486.34M293.66 486.34L303.66 476.34M298.61 478.9H312.11M305.36 472.15V485.65M300.36 473.9L310.36 483.9M300.36 483.9L310.36 473.9M305.31 477.55H318.81M312.06 470.8V484.3M307.06 472.55L317.06 482.55M307.06 482.55L317.06 472.55M312.01 480.73H325.51M318.76 473.98V487.48M313.76 475.73L323.76 485.73M313.76 485.73L323.76 475.73M318.71 477.82H332.21M325.46 471.07V484.57M320.46 472.82L330.46 482.82M320.46 482.82L330.46 472.82M325.42 478.75H338.92M332.17 472V485.5M327.17 473.75L337.17 483.75M327.17 483.75L337.17 473.75M332.12 478.22H345.62M338.87 471.47V484.97M333.87 473.22L343.87 483.22M333.87 483.22L343.87 473.22M338.82 473.77H352.32M345.57 467.02V480.52M340.57 468.77L350.57 478.77M340.57 478.77L350.57 468.77M345.52 478.21H359.02M352.27 471.46V484.96M347.27 473.21L357.27 483.21M347.27 483.21L357.27 473.21M352.22 476.45H365.72M358.97 469.7V483.2M353.97 471.45L363.97 481.45M353.97 481.45L363.97 471.45M358.93 474.37H372.43M365.68 467.62V481.12M360.68 469.37L370.68 479.37M360.68 479.37L370.68 469.37M365.63 477.94H379.13M372.38 471.19V484.69M367.38 472.94L377.38 482.94M367.38 482.94L377.38 472.94M372.33 476.93H385.83M379.08 470.18V483.68M374.08 471.93L384.08 481.93M374.08 481.93L384.08 471.93M379.03 476.5H392.53M385.78 469.75V483.25M380.78 471.5L390.78 481.5M380.78 481.5L390.78 471.5M385.73 476.69H399.23M392.48 469.94V483.44M387.48 471.69L397.48 481.69M387.48 481.69L397.48 471.69M392.44 479.8H405.94M399.19 473.05V486.55M394.19 474.8L404.19 484.8M394.19 484.8L404.19 474.8M399.14 476.79H412.64M405.89 470.04V483.54M400.89 471.79L410.89 481.79M400.89 481.79L410.89 471.79M405.84 473.8H419.34M412.59 467.05V480.55M407.59 468.8L417.59 478.8M407.59 478.8L417.59 468.8M412.54 480.7H426.04M419.29 473.95V487.45M414.29 475.7L424.29 485.7M414.29 485.7L424.29 475.7M419.24 475.04H432.74M425.99 468.29V481.79M420.99 470.04L430.99 480.04M420.99 480.04L430.99 470.04M425.95 476.8H439.45M432.7 470.05V483.55M427.7 471.8L437.7 481.8M427.7 481.8L437.7 471.8M432.65 478.61H446.15M439.4 471.86V485.36M434.4 473.61L444.4 483.61M434.4 483.61L444.4 473.61M439.35 472.38H452.85M446.1 465.63V479.13M441.1 467.38L451.1 477.38M441.1 477.38L451.1 467.38M446.05 475.3H459.55M452.8 468.55V482.05M447.8 470.3L457.8 480.3M447.8 480.3L457.8 470.3M452.76 479.93H466.26M459.51 473.18V486.68M454.51 474.93L464.51 484.93M454.51 484.93L464.51 474.93M459.46 476.92H472.96M466.21 470.17V483.67M461.21 471.92L471.21 481.92M461.21 481.92L471.21 471.92M466.16 475.73H479.66M472.91 468.98V482.48M467.91 470.73L477.91 480.73M467.91 480.73L477.91 470.73M472.86 477.53H486.36M479.61 470.78V484.28M474.61 472.53L484.61 482.53M474.61 482.53L484.61 472.53M479.56 475.47H493.06M486.31 468.72V482.22M481.31 470.47L491.31 480.47M481.31 480.47L491.31 470.47M486.27 477.23H499.77M493.02 470.48V483.98M488.02 472.23L498.02 482.23M488.02 482.23L498.02 472.23M492.97 475.49H506.47M499.72 468.74V482.24M494.72 470.49L504.72 480.49M494.72 480.49L504.72 470.49M499.67 473.67H513.17M506.42 466.92V480.42M501.42 468.67L511.42 478.67M501.42 478.67L511.42 468.67M506.37 478.66H519.87M513.12 471.91V485.41M508.12 473.66L518.12 483.66M508.12 483.66L518.12 473.66M513.07 476.58H526.57M519.82 469.83V483.33M514.82 471.58L524.82 481.58M514.82 481.58L524.82 471.58M519.78 478.15H533.28M526.53 471.4V484.9M521.53 473.15L531.53 483.15M521.53 483.15L531.53 473.15M526.48 476.76H539.98M533.23 470.01V483.51M528.23 471.76L538.23 481.76M528.23 481.76L538.23 471.76M533.18 479.86H546.68M539.93 473.11V486.61M534.93 474.86L544.93 484.86M534.93 484.86L544.93 474.86M539.88 478.43H553.38M546.63 471.68V485.18M541.63 473.43L551.63 483.43M541.63 483.43L551.63 473.43M546.58 477.52H560.08M553.33 470.77V484.27M548.33 472.52L558.33 482.52M548.33 482.52L558.33 472.52M553.29 474.94H566.79M560.04 468.19V481.69M555.04 469.94L565.04 479.94M555.04 479.94L565.04 469.94M559.99 474.36H573.49M566.74 467.61V481.11M561.74 469.36L571.74 479.36M561.74 479.36L571.74 469.36M566.69 480.18H580.19M573.44 473.43V486.93M568.44 475.18L578.44 485.18M568.44 485.18L578.44 475.18M573.39 478.93H586.89M580.14 472.18V485.68M575.14 473.93L585.14 483.93M575.14 483.93L585.14 473.93M580.09 475.53H593.59M586.84 468.78V482.28M581.84 470.53L591.84 480.53M581.84 480.53L591.84 470.53M586.8 481.76H600.3M593.55 475.01V488.51M588.55 476.76L598.55 486.76M588.55 486.76L598.55 476.76M593.5 478.15H607M600.25 471.4V484.9M595.25 473.15L605.25 483.15M595.25 483.15L605.25 473.15M600.2 477.29H613.7M606.95 470.54V484.04M601.95 472.29L611.95 482.29M601.95 482.29L611.95 472.29M606.9 474.09H620.4M613.65 467.34V480.84M608.65 469.09L618.65 479.09M608.65 479.09L618.65 469.09M613.6 475.43H627.1M620.35 468.68V482.18M615.35 470.43L625.35 480.43M615.35 480.43L625.35 470.43M620.31 477.83H633.81M627.06 471.08V484.58M622.06 472.83L632.06 482.83M622.06 482.83L632.06 472.83M627.01 477.93H640.51M633.76 471.18V484.68M628.76 472.93L638.76 482.93M628.76 482.93L638.76 472.93M633.71 477.65H647.21M640.46 470.9V484.4M635.46 472.65L645.46 482.65M635.46 482.65L645.46 472.65M640.41 473.46H653.91M647.16 466.71V480.21M642.16 468.46L652.16 478.46M642.16 478.46L652.16 468.46M647.11 478.07H660.61M653.86 471.32V484.82M648.86 473.07L658.86 483.07M648.86 483.07L658.86 473.07M653.82 477.78H667.32M660.57 471.03V484.53M655.57 472.78L665.57 482.78M655.57 482.78L665.57 472.78M660.52 476.23H674.02M667.27 469.48V482.98M662.27 471.23L672.27 481.23M662.27 481.23L672.27 471.23M667.22 477.35H680.72M673.97 470.6V484.1M668.97 472.35L678.97 482.35M668.97 482.35L678.97 472.35M673.92 477.53H687.42M680.67 470.78V484.28M675.67 472.53L685.67 482.53M675.67 482.53L685.67 472.53M680.62 479.69H694.12M687.37 472.94V486.44M682.37 474.69L692.37 484.69M682.37 484.69L692.37 474.69M687.33 477.09H700.83M694.08 470.34V483.84M689.08 472.09L699.08 482.09M689.08 482.09L699.08 472.09M694.03 478.11H707.53M700.78 471.36V484.86M695.78 473.11L705.78 483.11M695.78 483.11L705.78 473.11M700.73 474.31H714.23M707.48 467.56V481.06M702.48 469.31L712.48 479.31M702.48 479.31L712.48 469.31M707.43 475.52H720.93M714.18 468.77V482.27M709.18 470.52L719.18 480.52M709.18 480.52L719.18 470.52M714.13 477.12H727.63M720.88 470.37V483.87M715.88 472.12L725.88 482.12M715.88 482.12L725.88 472.12M720.84 475.48H734.34M727.59 468.73V482.23M722.59 470.48L732.59 480.48M722.59 480.48L732.59 470.48M727.54 477.86H741.04M734.29 471.11V484.61M729.29 472.86L739.29 482.86M729.29 482.86L739.29 472.86M734.24 474.58H747.74M740.99 467.83V481.33M735.99 469.58L745.99 479.58M735.99 479.58L745.99 469.58M740.94 477.07H754.44M747.69 470.32V483.82M742.69 472.07L752.69 482.07M742.69 482.07L752.69 472.07M747.64 475.68H761.14M754.39 468.93V482.43M749.39 470.68L759.39 480.68M749.39 480.68L759.39 470.68M754.35 480.11H767.85M761.1 473.36V486.86M756.1 475.11L766.1 485.11M756.1 485.11L766.1 475.11M761.05 476.24H774.55M767.8 469.49V482.99M762.8 471.24L772.8 481.24M762.8 481.24L772.8 471.24M767.75 441.66H781.25M774.5 434.91V448.41M769.5 436.66L779.5 446.66M769.5 446.66L779.5 436.66M767.75 372.16H781.25M774.5 365.41V378.91M769.5 367.16L779.5 377.16M769.5 377.16L779.5 367.16"/>
<polyline clip-path="url(#cp3)" points="117.7,275.78 124.4,183.34 131.11,113.84 137.81,103.35 144.51,94.18 151.21,136.14 157.91,179.41 164.62,226.61 171.32,267.78 178.02,314.2 184.72,353.54 191.42,384.75 198.13,415.04 204.83,441.26 211.53,468.89 218.23,476.47 224.93,486.12 231.64,485.47 238.34,494.64 245.04,492.82 251.74,489.4 258.44,487.79 265.15,491.71 271.85,482.79 278.55,482.09 285.25,480.45 291.95,478.42 298.66,475.75 305.36,481.28 312.06,469.37 318.76,476.66 325.46,480.76 332.17,473.43 338.87,468.25 345.57,474.69 352.27,467.94 358.97,467.99 365.68,476.01 372.38,481.37 379.08,477.44 385.78,469.59 392.48,476.24 399.19,478.59 405.89,478.07 412.59,473.73 419.29,473.85 425.99,470.93 432.7,470.56 439.4,476.87 446.1,474.33 452.8,477.53 459.51,473.58 466.21,477.58 472.91,477.74 479.61,466.84 486.31,473.69 493.02,471.68 499.72,465.47 506.42,471.21 513.12,474.16 519.82,473.6 526.53,476.22 533.23,470.19 539.93,474.86 546.63,468 553.33,474.91 560.04,474.94 566.74,475.16 573.44,471.73 580.14,473.17 586.84,469.29 593.55,475.6 600.25,472.83 606.95,467.43 613.65,474.57 620.35,472.04 627.06,468.63 633.76,471.97 640.46,475.86 647.16,480.54 653.86,465.94 660.57,472.37 667.27,469.65 673.97,475.34 680.67,467.82 687.37,472.08 694.08,473.62 700.78,476.74 707.48,472.57 714.18,475.38 720.88,474.51 727.59,479.1 734.29,475.39 740.99,473.26 747.69,477.88 754.39,473.54 761.1,471.61 767.8,474.79 774.5,441.66 774.5,376.22" fill="none" stroke="#00f" stroke-width="1.35" stroke-linejoin="round"/>
<path fill="none" stroke="#00f" stroke-width="1.7" stroke-linejoin="miter" d="M126 275.78L113.6 268.28L113.6 283.28ZM132.7 183.34L120.3 175.84L120.3 190.84ZM139.41 113.84L127.01 106.34L127.01 121.34ZM146.11 103.35L133.71 95.85L133.71 110.85ZM152.81 94.18L140.41 86.68L140.41 101.68ZM159.51 136.14L147.11 128.64L147.11 143.64ZM166.21 179.41L153.81 171.91L153.81 186.91ZM172.92 226.61L160.52 219.11L160.52 234.11ZM179.62 267.78L167.22 260.28L167.22 275.28ZM186.32 314.2L173.92 306.7L173.92 321.7ZM193.02 353.54L180.62 346.04L180.62 361.04ZM199.72 384.75L187.32 377.25L187.32 392.25ZM206.43 415.04L194.03 407.54L194.03 422.54ZM213.13 441.26L200.73 433.76L200.73 448.76ZM219.83 468.89L207.43 461.39L207.43 476.39ZM226.53 476.47L214.13 468.97L214.13 483.97ZM233.23 486.12L220.83 478.62L220.83 493.62ZM239.94 485.47L227.54 477.97L227.54 492.97ZM246.64 494.64L234.24 487.14L234.24 502.14ZM253.34 492.82L240.94 485.32L240.94 500.32ZM260.04 489.4L247.64 481.9L247.64 496.9ZM266.74 487.79L254.34 480.29L254.34 495.29ZM273.45 491.71L261.05 484.21L261.05 499.21ZM280.15 482.79L267.75 475.29L267.75 490.29ZM286.85 482.09L274.45 474.59L274.45 489.59ZM293.55 480.45L281.15 472.95L281.15 487.95ZM300.25 478.42L287.85 470.92L287.85 485.92ZM306.96 475.75L294.56 468.25L294.56 483.25ZM313.66 481.28L301.26 473.78L301.26 488.78ZM320.36 469.37L307.96 461.87L307.96 476.87ZM327.06 476.66L314.66 469.16L314.66 484.16ZM333.76 480.76L321.36 473.26L321.36 488.26ZM340.47 473.43L328.07 465.93L328.07 480.93ZM347.17 468.25L334.77 460.75L334.77 475.75ZM353.87 474.69L341.47 467.19L341.47 482.19ZM360.57 467.94L348.17 460.44L348.17 475.44ZM367.27 467.99L354.87 460.49L354.87 475.49ZM373.98 476.01L361.58 468.51L361.58 483.51ZM380.68 481.37L368.28 473.87L368.28 488.87ZM387.38 477.44L374.98 469.94L374.98 484.94ZM394.08 469.59L381.68 462.09L381.68 477.09ZM400.78 476.24L388.38 468.74L388.38 483.74ZM407.49 478.59L395.09 471.09L395.09 486.09ZM414.19 478.07L401.79 470.57L401.79 485.57ZM420.89 473.73L408.49 466.23L408.49 481.23ZM427.59 473.85L415.19 466.35L415.19 481.35ZM434.29 470.93L421.89 463.43L421.89 478.43ZM441 470.56L428.6 463.06L428.6 478.06ZM447.7 476.87L435.3 469.37L435.3 484.37ZM454.4 474.33L442 466.83L442 481.83ZM461.1 477.53L448.7 470.03L448.7 485.03ZM467.81 473.58L455.41 466.08L455.41 481.08ZM474.51 477.58L462.11 470.08L462.11 485.08ZM481.21 477.74L468.81 470.24L468.81 485.24ZM487.91 466.84L475.51 459.34L475.51 474.34ZM494.61 473.69L482.21 466.19L482.21 481.19ZM501.32 471.68L488.92 464.18L488.92 479.18ZM508.02 465.47L495.62 457.97L495.62 472.97ZM514.72 471.21L502.32 463.71L502.32 478.71ZM521.42 474.16L509.02 466.66L509.02 481.66ZM528.12 473.6L515.72 466.1L515.72 481.1ZM534.83 476.22L522.43 468.72L522.43 483.72ZM541.53 470.19L529.13 462.69L529.13 477.69ZM548.23 474.86L535.83 467.36L535.83 482.36ZM554.93 468L542.53 460.5L542.53 475.5ZM561.63 474.91L549.23 467.41L549.23 482.41ZM568.34 474.94L555.94 467.44L555.94 482.44ZM575.04 475.16L562.64 467.66L562.64 482.66ZM581.74 471.73L569.34 464.23L569.34 479.23ZM588.44 473.17L576.04 465.67L576.04 480.67ZM595.14 469.29L582.74 461.79L582.74 476.79ZM601.85 475.6L589.45 468.1L589.45 483.1ZM608.55 472.83L596.15 465.33L596.15 480.33ZM615.25 467.43L602.85 459.93L602.85 474.93ZM621.95 474.57L609.55 467.07L609.55 482.07ZM628.65 472.04L616.25 464.54L616.25 479.54ZM635.36 468.63L622.96 461.13L622.96 476.13ZM642.06 471.97L629.66 464.47L629.66 479.47ZM648.76 475.86L636.36 468.36L636.36 483.36ZM655.46 480.54L643.06 473.04L643.06 488.04ZM662.16 465.94L649.76 458.44L649.76 473.44ZM668.87 472.37L656.47 464.87L656.47 479.87ZM675.57 469.65L663.17 462.15L663.17 477.15ZM682.27 475.34L669.87 467.84L669.87 482.84ZM688.97 467.82L676.57 460.32L676.57 475.32ZM695.67 472.08L683.27 464.58L683.27 479.58ZM702.38 473.62L689.98 466.12L689.98 481.12ZM709.08 476.74L696.68 469.24L696.68 484.24ZM715.78 472.57L703.38 465.07L703.38 480.07ZM722.48 475.38L710.08 467.88L710.08 482.88ZM729.18 474.51L716.78 467.01L716.78 482.01ZM735.89 479.1L723.49 471.6L723.49 486.6ZM742.59 475.39L730.19 467.89L730.19 482.89ZM749.29 473.26L736.89 465.76L736.89 480.76ZM755.99 477.88L743.59 470.38L743.59 485.38ZM762.69 473.54L750.29 466.04L750.29 481.04ZM769.4 471.61L757 464.11L757 479.11ZM776.1 474.79L763.7 467.29L763.7 482.29ZM782.8 441.66L770.4 434.16L770.4 449.16ZM782.8 376.22L770.4 368.72L770.4 383.72Z"/>
<polyline clip-path="url(#cp3)" points="117.7,286.96 124.4,147.73 131.11,86.87 137.81,91.57 144.51,92.37 151.21,131.11 157.91,200.58 164.62,250.62 171.32,282.95 178.02,312.18 184.72,365.63 191.42,382.75 198.13,369.64 204.83,422.09 211.53,455.92 218.23,507.77 224.93,456.92 231.64,480.04 238.34,478.54 245.04,470.03 251.74,480.04 258.44,458.92 265.15,478.54 271.85,507.77 278.55,505.27 285.25,501.36 291.95,452.42 298.66,478.54 305.36,466.93 312.06,474.04 318.76,455.42 325.46,467.93 332.17,463.13 338.87,455.42 345.57,480.04 352.27,450.81 358.97,477.04 365.68,434.2 372.38,471.03 379.08,485.15 385.78,461.43 392.48,477.04 399.19,485.15 405.89,452.32 412.59,480.04 419.29,453.92 425.99,452.32 432.7,507.77 439.4,481.54 446.1,437.3 452.8,469.53 459.51,490.65 466.21,482.04 472.91,455.42 479.61,496.66 486.31,496.66 493.02,428.19 499.72,449.81 506.42,485.15 513.12,489.65 519.82,474.04 526.53,475.54 533.23,461.93 539.93,493.66 546.63,487.65 553.33,503.26 560.04,470.53 566.74,447.81 573.44,490.65 580.14,494.16 586.84,487.65 593.55,455.42 600.25,480.04 606.95,446.81 613.65,489.35 620.35,459.92 627.06,483.65 633.76,458.92 640.46,485.15 647.16,447.81 653.86,459.92 660.57,471.03 667.27,489.65 673.97,458.92 680.67,477.04 687.37,462.93 694.08,496.66 700.78,471.03 707.48,468.83 714.18,465.93 720.88,421.89 727.59,473.74 734.29,486.35 740.99,501.56 747.69,469.93 754.39,459.82 761.1,466.73 767.8,464.73 774.5,428.09 774.5,371.94" fill="none" stroke="#0f0" stroke-width="1.35" stroke-linejoin="round"/>
<g fill="none" stroke="#0f0" stroke-width="1.7"><circle cx="117.7" cy="286.96" r="5.6"/><circle cx="124.4" cy="147.73" r="5.6"/><circle cx="131.11" cy="86.87" r="5.6"/><circle cx="137.81" cy="91.57" r="5.6"/><circle cx="144.51" cy="92.37" r="5.6"/><circle cx="151.21" cy="131.11" r="5.6"/><circle cx="157.91" cy="200.58" r="5.6"/><circle cx="164.62" cy="250.62" r="5.6"/><circle cx="171.32" cy="282.95" r="5.6"/><circle cx="178.02" cy="312.18" r="5.6"/><circle cx="184.72" cy="365.63" r="5.6"/><circle cx="191.42" cy="382.75" r="5.6"/><circle cx="198.13" cy="369.64" r="5.6"/><circle cx="204.83" cy="422.09" r="5.6"/><circle cx="211.53" cy="455.92" r="5.6"/><circle cx="218.23" cy="507.77" r="5.6"/><circle cx="224.93" cy="456.92" r="5.6"/><circle cx="231.64" cy="480.04" r="5.6"/><circle cx="238.34" cy="478.54" r="5.6"/><circle cx="245.04" cy="470.03" r="5.6"/><circle cx="251.74" cy="480.04" r="5.6"/><circle cx="258.44" cy="458.92" r="5.6"/><circle cx="265.15" cy="478.54" r="5.6"/><circle cx="271.85" cy="507.77" r="5.6"/><circle cx="278.55" cy="505.27" r="5.6"/><circle cx="285.25" cy="501.36" r="5.6"/><circle cx="291.95" cy="452.42" r="5.6"/><circle cx="298.66" cy="478.54" r="5.6"/><circle cx="305.36" cy="466.93" r="5.6"/><circle cx="312.06" cy="474.04" r="5.6"/><circle cx="318.76" cy="455.42" r="5.6"/><circle cx="325.46" cy="467.93" r="5.6"/><circle cx="332.17" cy="463.13" r="5.6"/><circle cx="338.87" cy="455.42" r="5.6"/><circle cx="345.57" cy="480.04" r="5.6"/><circle cx="352.27" cy="450.81" r="5.6"/><circle cx="358.97" cy="477.04" r="5.6"/><circle cx="365.68" cy="434.2" r="5.6"/><circle cx="372.38" cy="471.03" r="5.6"/><circle cx="379.08" cy="485.15" r="5.6"/><circle cx="385.78" cy="461.43" r="5.6"/><circle cx="392.48" cy="477.04" r="5.6"/><circle cx="399.19" cy="485.15" r="5.6"/><circle cx="405.89" cy="452.32" r="5.6"/><circle cx="412.59" cy="480.04" r="5.6"/><circle cx="419.29" cy="453.92" r="5.6"/><circle cx="425.99" cy="452.32" r="5.6"/><circle cx="432.7" cy="507.77" r="5.6"/><circle cx="439.4" cy="481.54" r="5.6"/><circle cx="446.1" cy="437.3" r="5.6"/><circle cx="452.8" cy="469.53" r="5.6"/><circle cx="459.51" cy="490.65" r="5.6"/><circle cx="466.21" cy="482.04" r="5.6"/><circle cx="472.91" cy="455.42" r="5.6"/><circle cx="479.61" cy="496.66" r="5.6"/><circle cx="486.31" cy="496.66" r="5.6"/><circle cx="493.02" cy="428.19" r="5.6"/><circle cx="499.72" cy="449.81" r="5.6"/><circle cx="506.42" cy="485.15" r="5.6"/><circle cx="513.12" cy="489.65" r="5.6"/><circle cx="519.82" cy="474.04" r="5.6"/><circle cx="526.53" cy="475.54" r="5.6"/><circle cx="533.23" cy="461.93" r="5.6"/><circle cx="539.93" cy="493.66" r="5.6"/><circle cx="546.63" cy="487.65" r="5.6"/><circle cx="553.33" cy="503.26" r="5.6"/><circle cx="560.04" cy="470.53" r="5.6"/><circle cx="566.74" cy="447.81" r="5.6"/><circle cx="573.44" cy="490.65" r="5.6"/><circle cx="580.14" cy="494.16" r="5.6"/><circle cx="586.84" cy="487.65" r="5.6"/><circle cx="593.55" cy="455.42" r="5.6"/><circle cx="600.25" cy="480.04" r="5.6"/><circle cx="606.95" cy="446.81" r="5.6"/><circle cx="613.65" cy="489.35" r="5.6"/><circle cx="620.35" cy="459.92" r="5.6"/><circle cx="627.06" cy="483.65" r="5.6"/><circle cx="633.76" cy="458.92" r="5.6"/><circle cx="640.46" cy="485.15" r="5.6"/><circle cx="647.16" cy="447.81" r="5.6"/><circle cx="653.86" cy="459.92" r="5.6"/><circle cx="660.57" cy="471.03" r="5.6"/><circle cx="667.27" cy="489.65" r="5.6"/><circle cx="673.97" cy="458.92" r="5.6"/><circle cx="680.67" cy="477.04" r="5.6"/><circle cx="687.37" cy="462.93" r="5.6"/><circle cx="694.08" cy="496.66" r="5.6"/><circle cx="700.78" cy="471.03" r="5.6"/><circle cx="707.48" cy="468.83" r="5.6"/><circle cx="714.18" cy="465.93" r="5.6"/><circle cx="720.88" cy="421.89" r="5.6"/><circle cx="727.59" cy="473.74" r="5.6"/><circle cx="734.29" cy="486.35" r="5.6"/><circle cx="740.99" cy="501.56" r="5.6"/><circle cx="747.69" cy="469.93" r="5.6"/><circle cx="754.39" cy="459.82" r="5.6"/><circle cx="761.1" cy="466.73" r="5.6"/><circle cx="767.8" cy="464.73" r="5.6"/><circle cx="774.5" cy="428.09" r="5.6"/><circle cx="774.5" cy="371.94" r="5.6"/></g>
<path d="M111.0 15.5V540.0H774.5" fill="none" stroke="#262626" stroke-width="1.5" stroke-linejoin="miter" stroke-linecap="square"/>
<path d="M111.0 15.5H774.5V540.0" fill="none" stroke="#262626" stroke-width="1.3" stroke-linejoin="miter" stroke-linecap="square"/>
<path d="M111 540.0V533M111 15.5V22.5M177.35 540.0V533M177.35 15.5V22.5M243.7 540.0V533M243.7 15.5V22.5M310.05 540.0V533M310.05 15.5V22.5M376.4 540.0V533M376.4 15.5V22.5M442.75 540.0V533M442.75 15.5V22.5M509.1 540.0V533M509.1 15.5V22.5M575.45 540.0V533M575.45 15.5V22.5M641.8 540.0V533M641.8 15.5V22.5M708.15 540.0V533M708.15 15.5V22.5M774.5 540.0V533M774.5 15.5V22.5M111.0 540H118M774.5 540H767.5M111.0 474.44H118M774.5 474.44H767.5M111.0 408.88H118M774.5 408.88H767.5M111.0 343.31H118M774.5 343.31H767.5M111.0 277.75H118M774.5 277.75H767.5M111.0 212.19H118M774.5 212.19H767.5M111.0 146.62H118M774.5 146.62H767.5M111.0 81.06H118M774.5 81.06H767.5M111.0 15.5H118M774.5 15.5H767.5" stroke="#262626" stroke-width="1.3" fill="none"/>
<g font-family="Liberation Sans, Arial, sans-serif" font-size="20.3" fill="#262626" stroke="#262626" stroke-width="0.45">
<text x="111" y="569.6" text-anchor="middle">0</text>
<text x="177.35" y="569.6" text-anchor="middle">2</text>
<text x="243.7" y="569.6" text-anchor="middle">4</text>
<text x="310.05" y="569.6" text-anchor="middle">6</text>
<text x="376.4" y="569.6" text-anchor="middle">8</text>
<text x="442.75" y="569.6" text-anchor="middle">10</text>
<text x="509.1" y="569.6" text-anchor="middle">12</text>
<text x="575.45" y="569.6" text-anchor="middle">14</text>
<text x="641.8" y="569.6" text-anchor="middle">16</text>
<text x="708.15" y="569.6" text-anchor="middle">18</text>
<text x="774.5" y="569.6" text-anchor="middle">20</text>
<text x="103.0" y="549.1" text-anchor="end">-0.05</text>
<text x="103.0" y="483.54" text-anchor="end">0</text>
<text x="103.0" y="417.98" text-anchor="end">0.05</text>
<text x="103.0" y="352.41" text-anchor="end">0.1</text>
<text x="103.0" y="286.85" text-anchor="end">0.15</text>
<text x="103.0" y="221.29" text-anchor="end">0.2</text>
<text x="103.0" y="155.72" text-anchor="end">0.25</text>
<text x="103.0" y="90.16" text-anchor="end">0.3</text>
<text x="103.0" y="24.6" text-anchor="end">0.35</text>
</g>
<text x="443.55" y="601.3" text-anchor="middle" font-family="Liberation Sans, Arial, sans-serif" font-style="italic" font-size="22.1" fill="#262626" stroke="#262626" stroke-width="0.45">x</text>
<g transform="translate(38.4,277.75) rotate(-90)" font-family="Liberation Sans, Arial, sans-serif" font-size="22.1" fill="#262626" stroke="#262626" stroke-width="0.45">
<text x="-277.3" y="0">exact solution</text>
<text x="-130.9" y="0" font-style="italic">u(x,0)</text>
<text x="-67.0" y="0" textLength="263.0" lengthAdjust="spacingAndGlyphs">and approximate solutions</text>
<text x="208.8" y="0" font-style="italic">u</text>
<text x="222.0" y="-11.6" font-size="16.5" font-style="italic" font-family="Liberation Serif, serif">δ</text>
<text x="221.5" y="9.5" font-size="16.5" font-style="italic" font-family="Liberation Serif, serif">μ</text>
<text x="234.0" y="0" font-style="italic">(x,0)</text>
</g>
<rect x="578.3" y="35.4" width="176.2" height="107.1" fill="#fff" stroke="#262626" stroke-width="1.3"/>
<g fill="none" stroke-width="1.35">
<path d="M585.1 50.9H630.8" stroke="#000"/>
<path d="M585.1 76.3H630.8" stroke="#f00"/>
<path d="M585.1 101.4H630.8" stroke="#00f"/>
<path d="M585.1 126.5H630.8" stroke="#0f0"/>
</g>
<path fill="none" stroke="#f00" stroke-width="1.7" d="M601.75 76.3H615.25M608.5 69.55V83.05M603.5 71.3L613.5 81.3M603.5 81.3L613.5 71.3"/>
<path fill="none" stroke="#00f" stroke-width="1.7" d="M616.8 101.4L604.4 93.9L604.4 108.9Z"/>
<circle cx="608.5" cy="126.5" r="5.6" fill="none" stroke="#0f0" stroke-width="1.7"/>
<g font-family="Liberation Sans, Arial, sans-serif" font-size="18.3" fill="#000" stroke="#000" stroke-width="0.45">
<text x="635.4" y="58.8">exact solution</text>
<text x="635.4" y="84.2"><tspan font-family="Liberation Serif, serif" font-style="italic">δ</tspan>=1e-4</text>
<text x="635.4" y="109.3"><tspan font-family="Liberation Serif, serif" font-style="italic">δ</tspan>=1e-3</text>
<text x="635.4" y="134.4"><tspan font-family="Liberation Serif, serif" font-style="italic">δ</tspan>=1e-2</text>
</g>
</g>
<g font-family='"Liberation Serif", "Times New Roman", serif' fill="#000" stroke="#fff" stroke-width="0.4">
<text transform="translate(-1.50,668.10) scale(0.8440,1.188)" font-size="45.50">(</text>
<text transform="translate(13.29,667.70) scale(1.1307,1.0)" font-size="45.50">a</text>
<text transform="translate(36.71,668.10) scale(0.9101,1.188)" font-size="45.50">)</text>
<text transform="translate(100.54,666.90) scale(1.0000,1.0)" font-size="45.50" font-style="italic">p</text>
<text transform="translate(131.99,668.50) scale(1.5051,0.95)" font-size="45.50">=</text>
<text transform="translate(182.18,666.90) scale(1.0171,1.0)" font-size="45.50">1,</text>
<text transform="translate(260.86,666.90) scale(1.1761,1.0)" font-size="45.50" font-style="italic">T</text>
<text transform="translate(307.37,668.50) scale(1.4675,0.95)" font-size="45.50">=</text>
<text transform="translate(356.12,666.90) scale(1.0378,1.0)" font-size="45.50">0.3,</text>
<text transform="translate(472.23,666.90) scale(1.1018,1.0)" font-size="45.50" font-style="italic">t</text>
<text transform="translate(489.49,672.50) scale(0.9838,1.0)" font-size="32.76" stroke="#000" stroke-width="0.45">0</text>
<text transform="translate(518.87,668.50) scale(1.4675,0.95)" font-size="45.50">=</text>
<text transform="translate(568.49,666.90) scale(1.0628,1.0)" font-size="45.50">0.1,</text>
<text transform="translate(684.41,666.90) scale(1.1170,1.0)" font-size="45.50" font-style="italic">α</text>
<text transform="translate(724.29,668.50) scale(1.5051,0.95)" font-size="45.50">=</text>
<text transform="translate(773.54,666.90) scale(1.0294,1.0)" font-size="45.50">0.1;</text>
<text transform="translate(871.11,668.10) scale(0.9768,1.188)" font-size="45.50">(</text>
<text transform="translate(890.00,667.70) scale(1.0596,1.0)" font-size="45.50">b</text>
<text transform="translate(912.32,668.10) scale(1.0425,1.188)" font-size="45.50">)</text>
<text transform="translate(977.54,666.90) scale(1.0000,1.0)" font-size="45.50" font-style="italic">p</text>
<text transform="translate(1008.99,668.50) scale(1.5051,0.95)" font-size="45.50">=</text>
<text transform="translate(1059.18,666.90) scale(1.0171,1.0)" font-size="45.50">1,</text>
<text transform="translate(1137.86,666.90) scale(1.1761,1.0)" font-size="45.50" font-style="italic">T</text>
<text transform="translate(1184.37,668.50) scale(1.4675,0.95)" font-size="45.50">=</text>
<text transform="translate(1233.12,666.90) scale(1.0378,1.0)" font-size="45.50">0.3,</text>
<text transform="translate(1349.23,666.90) scale(1.1018,1.0)" font-size="45.50" font-style="italic">t</text>
<text transform="translate(1366.49,672.50) scale(0.9838,1.0)" font-size="32.76" stroke="#000" stroke-width="0.45">0</text>
<text transform="translate(1395.87,668.50) scale(1.4675,0.95)" font-size="45.50">=</text>
<text transform="translate(1445.49,666.90) scale(1.0628,1.0)" font-size="45.50">0.1,</text>
<text transform="translate(1561.41,666.90) scale(1.1170,1.0)" font-size="45.50" font-style="italic">α</text>
<text transform="translate(1601.29,668.50) scale(1.5051,0.95)" font-size="45.50">=</text>
<text transform="translate(1650.52,666.90) scale(1.0409,1.0)" font-size="45.50">0.5.</text>
<text transform="translate(-0.54,1381.10) scale(0.8752,1.188)" font-size="45.50">(</text>
<text transform="translate(14.30,1380.70) scale(0.9846,1.0)" font-size="45.50">c</text>
<text transform="translate(35.68,1381.10) scale(0.9267,1.188)" font-size="45.50">)</text>
<text transform="translate(100.54,1379.90) scale(1.0000,1.0)" font-size="45.50" font-style="italic">p</text>
<text transform="translate(131.99,1381.50) scale(1.5051,0.95)" font-size="45.50">=</text>
<text transform="translate(182.18,1379.90) scale(1.0171,1.0)" font-size="45.50">1,</text>
<text transform="translate(260.86,1379.90) scale(1.1761,1.0)" font-size="45.50" font-style="italic">T</text>
<text transform="translate(307.37,1381.50) scale(1.4675,0.95)" font-size="45.50">=</text>
<text transform="translate(356.12,1379.90) scale(1.0378,1.0)" font-size="45.50">0.3,</text>
<text transform="translate(472.23,1379.90) scale(1.1018,1.0)" font-size="45.50" font-style="italic">t</text>
<text transform="translate(489.49,1385.50) scale(0.9838,1.0)" font-size="32.76" stroke="#000" stroke-width="0.45">0</text>
<text transform="translate(518.87,1381.50) scale(1.4675,0.95)" font-size="45.50">=</text>
<text transform="translate(568.49,1379.90) scale(1.0628,1.0)" font-size="45.50">0.1,</text>
<text transform="translate(684.41,1379.90) scale(1.1170,1.0)" font-size="45.50" font-style="italic">α</text>
<text transform="translate(724.29,1381.50) scale(1.5051,0.95)" font-size="45.50">=</text>
<text transform="translate(771.22,1379.90) scale(1.0645,1.0)" font-size="45.50">1.1;</text>
<text transform="translate(872.39,1381.10) scale(0.8518,1.188)" font-size="45.50">(</text>
<text transform="translate(886.79,1380.70) scale(1.0643,1.0)" font-size="45.50">d</text>
<text transform="translate(913.63,1381.10) scale(0.8936,1.188)" font-size="45.50">)</text>
<text transform="translate(977.54,1379.90) scale(1.0000,1.0)" font-size="45.50" font-style="italic">p</text>
<text transform="translate(1008.99,1381.50) scale(1.5051,0.95)" font-size="45.50">=</text>
<text transform="translate(1059.18,1379.90) scale(1.0171,1.0)" font-size="45.50">1,</text>
<text transform="translate(1137.86,1379.90) scale(1.1761,1.0)" font-size="45.50" font-style="italic">T</text>
<text transform="translate(1184.37,1381.50) scale(1.4675,0.95)" font-size="45.50">=</text>
<text transform="translate(1233.12,1379.90) scale(1.0378,1.0)" font-size="45.50">0.3,</text>
<text transform="translate(1349.23,1379.90) scale(1.1018,1.0)" font-size="45.50" font-style="italic">t</text>
<text transform="translate(1366.49,1385.50) scale(0.9838,1.0)" font-size="32.76" stroke="#000" stroke-width="0.45">0</text>
<text transform="translate(1395.87,1381.50) scale(1.4675,0.95)" font-size="45.50">=</text>
<text transform="translate(1445.49,1379.90) scale(1.0628,1.0)" font-size="45.50">0.1,</text>
<text transform="translate(1561.41,1379.90) scale(1.1170,1.0)" font-size="45.50" font-style="italic">α</text>
<text transform="translate(1601.29,1381.50) scale(1.5051,0.95)" font-size="45.50">=</text>
<text transform="translate(1648.17,1379.90) scale(1.0768,1.0)" font-size="45.50">1.5.</text>
</g>
</svg>
</body></html>
